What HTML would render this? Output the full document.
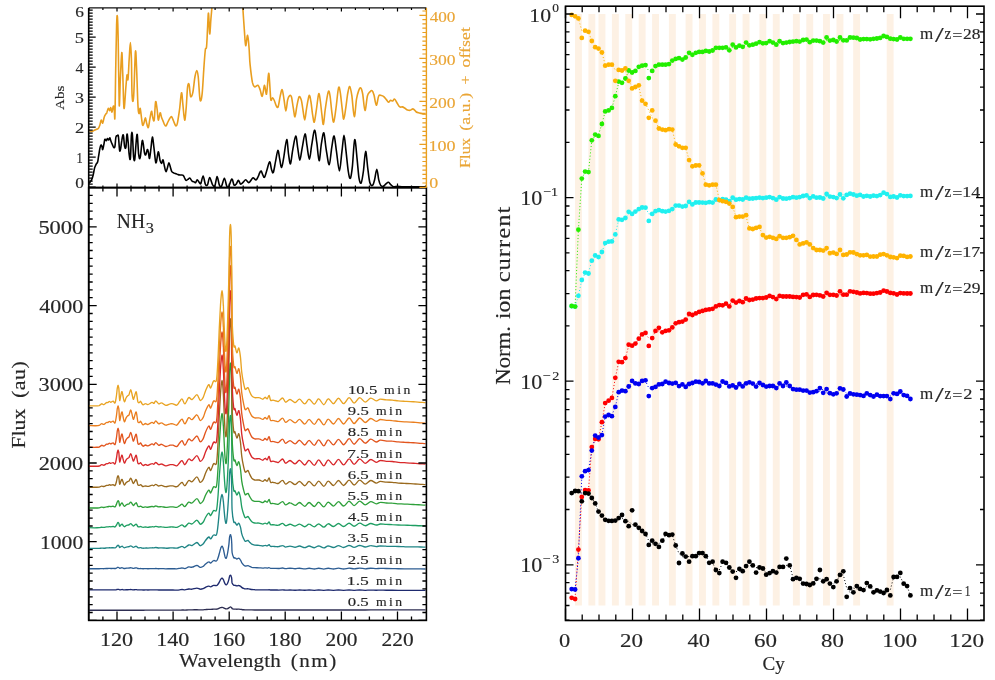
<!DOCTYPE html><html><head><meta charset="utf-8"><style>html,body{margin:0;padding:0;background:#fff;}svg{display:block;will-change:transform;}</style></head><body>
<svg width="995" height="680" viewBox="0 0 995 680">
<rect width="995" height="680" fill="#fff"/>
<defs>
<clipPath id="cT"><rect x="88.7" y="7.9" width="337.7" height="179.7"/></clipPath>
<clipPath id="cB"><rect x="88.7" y="187.6" width="337.7" height="432.8"/></clipPath>
</defs>
<rect x="575" y="14" width="6.9" height="591.5" fill="#FDF1E4"/>
<rect x="588.4" y="14" width="6.9" height="591.5" fill="#FDF1E4"/>
<rect x="598.5" y="14" width="6.9" height="591.5" fill="#FDF1E4"/>
<rect x="611.9" y="14" width="6.9" height="591.5" fill="#FDF1E4"/>
<rect x="625.3" y="14" width="6.9" height="591.5" fill="#FDF1E4"/>
<rect x="638.7" y="14" width="6.9" height="591.5" fill="#FDF1E4"/>
<rect x="652.1" y="14" width="6.9" height="591.5" fill="#FDF1E4"/>
<rect x="668.9" y="14" width="6.9" height="591.5" fill="#FDF1E4"/>
<rect x="685.6" y="14" width="6.9" height="591.5" fill="#FDF1E4"/>
<rect x="699" y="14" width="6.9" height="591.5" fill="#FDF1E4"/>
<rect x="712.4" y="14" width="6.9" height="591.5" fill="#FDF1E4"/>
<rect x="729.2" y="14" width="6.9" height="591.5" fill="#FDF1E4"/>
<rect x="742.6" y="14" width="6.9" height="591.5" fill="#FDF1E4"/>
<rect x="759.4" y="14" width="6.9" height="591.5" fill="#FDF1E4"/>
<rect x="772.8" y="14" width="6.9" height="591.5" fill="#FDF1E4"/>
<rect x="792.9" y="14" width="6.9" height="591.5" fill="#FDF1E4"/>
<rect x="806.3" y="14" width="6.9" height="591.5" fill="#FDF1E4"/>
<rect x="823" y="14" width="6.9" height="591.5" fill="#FDF1E4"/>
<rect x="836.5" y="14" width="6.9" height="591.5" fill="#FDF1E4"/>
<rect x="853.2" y="14" width="6.9" height="591.5" fill="#FDF1E4"/>
<rect x="886.7" y="14" width="6.9" height="591.5" fill="#FDF1E4"/>
<path d="M571.7,306.2 L575.1,306.2 L578.4,295.8 L581.8,280 L585.1,273.5 L588.5,272.6 L591.8,260.7 L595.2,257.1 L598.5,255.4 L601.9,252 L605.2,243.1 L608.6,241.7 L611.9,241.4 L615.3,234.4 L618.7,219.8 L622,219.4 L625.4,218 L628.7,213.9 L632.1,211.8 L635.4,211.6 L638.8,209.1 L642.1,207.7 L645.5,207.7 L648.8,213.9 L652.2,213.9 L655.5,211.2 L658.9,211.2 L662.3,211.2 L665.6,211.2 L669,210.8 L672.3,209.1 L675.7,205.6 L679,205.6 L682.4,206 L685.7,206 L689.1,204.4 L692.4,202.5 L695.8,202.5 L699.1,202.5 L702.5,202.6 L705.8,202.6 L709.2,202.6 L712.6,202.2 L715.9,200.1 L719.3,199.5 L722.6,199.7 L726,199.7 L729.3,199.7 L732.7,199.7 L736,199.1 L739.4,199.5 L742.7,199.1 L746.1,198.7 L749.4,198.5 L752.8,198.5 L756.1,198.1 L759.5,198.1 L762.9,197.7 L766.2,197.7 L769.6,197.7 L772.9,198.1 L776.3,198.1 L779.6,198.5 L783,198.5 L786.3,198.5 L789.7,198.1 L793,197.7 L796.4,197.1 L799.7,197.1 L803.1,196 L806.5,196 L809.8,196.4 L813.2,197.7 L816.5,197.5 L819.9,197.7 L823.2,197.5 L826.6,196.6 L829.9,196.6 L833.3,197.1 L836.6,197.1 L840,198.1 L843.3,194.9 L846.7,194.9 L850,194.5 L853.4,194.5 L856.8,194.9 L860.1,195.7 L863.5,195.8 L866.8,196.5 L870.2,195.8 L873.5,196.1 L876.9,195.7 L880.2,195.1 L883.6,194.1 L886.9,194.1 L890.3,196.5 L893.6,196.9 L897,196.5 L900.3,196.1 L903.7,196.1 L907.1,196.1 L910.4,195.9" fill="none" stroke="#20F0F0" stroke-width="1" stroke-dasharray="1 2.2"/>
<path d="M571.7,306 L575.1,306 L578.4,229.7 L581.8,178.6 L585.1,172.1 L588.5,171.6 L591.8,140.3 L595.2,135.9 L598.5,134.6 L601.9,124 L605.2,111.4 L608.6,110.4 L611.9,107.9 L615.3,96.2 L618.7,82.8 L622,81.6 L625.4,78.5 L628.7,72.5 L632.1,70.9 L635.4,70.9 L638.8,66.8 L642.1,65.7 L645.5,65.7 L648.8,70.9 L652.2,70.9 L655.5,66.1 L658.9,64.7 L662.3,64.7 L665.6,64.7 L669,64.1 L672.3,60.6 L675.7,58.9 L679,58.9 L682.4,58.1 L685.7,57.5 L689.1,54.8 L692.4,52.8 L695.8,52.8 L699.1,51.9 L702.5,51.9 L705.8,51.5 L709.2,50.9 L712.6,50.5 L715.9,47.8 L719.3,47.8 L722.6,47.8 L726,47.8 L729.3,47.4 L732.7,47.4 L736,45.7 L739.4,46.8 L742.7,45.7 L746.1,45.3 L749.4,44.7 L752.8,44.7 L756.1,43.7 L759.5,43.3 L762.9,43.1 L766.2,43.1 L769.6,42.6 L772.9,42.6 L776.3,42.6 L779.6,43.1 L783,42.6 L786.3,42.6 L789.7,42 L793,41.6 L796.4,41.6 L799.7,41.2 L803.1,40 L806.5,40 L809.8,40.6 L813.2,40.6 L816.5,40.6 L819.9,41.2 L823.2,41.2 L826.6,40.6 L829.9,40 L833.3,40.6 L836.6,40 L840,40.3 L843.3,40.3 L846.7,40.3 L850,37.7 L853.4,37.7 L856.8,38 L860.1,39.1 L863.5,39.1 L866.8,39.1 L870.2,39.1 L873.5,38.8 L876.9,38.5 L880.2,37.9 L883.6,36.9 L886.9,36.9 L890.3,38.7 L893.6,39.1 L897,39.1 L900.3,38.8 L903.7,38.8 L907.1,38.8 L910.4,38.8" fill="none" stroke="#22EE00" stroke-width="1" stroke-dasharray="1 2.2"/>
<path d="M571.7,14.9 L575.1,16.3 L578.4,18.4 L581.8,30.7 L585.1,31.8 L588.5,31.8 L591.8,41 L595.2,47.2 L598.5,48.6 L601.9,52.4 L605.2,64.7 L608.6,64.7 L611.9,64.7 L615.3,69.9 L618.7,70.5 L622,69.9 L625.4,70.5 L628.7,80.8 L632.1,87 L635.4,87 L638.8,87 L642.1,100.7 L645.5,103.8 L648.8,110.4 L652.2,117.8 L655.5,120.7 L658.9,128.5 L662.3,129.6 L665.6,129.6 L669,129.6 L672.3,129.6 L675.7,144.5 L679,146.3 L682.4,147.8 L685.7,147.8 L689.1,160.1 L692.4,165.5 L695.8,165.5 L699.1,165.5 L702.5,173.4 L705.8,184.7 L709.2,184.7 L712.6,184.7 L715.9,184.7 L719.3,200.1 L722.6,201.2 L726,201.8 L729.3,203.6 L732.7,206.9 L736,216.6 L739.4,216.6 L742.7,216.6 L746.1,216.6 L749.4,228.4 L752.8,228.4 L756.1,227.9 L759.5,227.9 L762.9,235.1 L766.2,236.8 L769.6,237.6 L772.9,237.8 L776.3,237.8 L779.6,237.8 L783,237.8 L786.3,237.8 L789.7,237.2 L793,237.2 L796.4,239.9 L799.7,243.4 L803.1,243.4 L806.5,243.4 L809.8,244.4 L813.2,248.1 L816.5,250 L819.9,250 L823.2,250 L826.6,250.6 L829.9,252.6 L833.3,253.1 L836.6,252.6 L840,253.8 L843.3,254.5 L846.7,254.5 L850,252.5 L853.4,252.5 L856.8,254.1 L860.1,255.3 L863.5,255.3 L866.8,255.3 L870.2,256.5 L873.5,256.5 L876.9,256.5 L880.2,254.7 L883.6,254.7 L886.9,255.3 L890.3,257 L893.6,257.3 L897,257.3 L900.3,255.9 L903.7,255.9 L907.1,256.5 L910.4,256.5" fill="none" stroke="#FFB300" stroke-width="1" stroke-dasharray="1 2.2"/>
<path d="M571.7,597.8 L575.1,597.8 L578.4,549.6 L581.8,497 L585.1,490.3 L588.5,490.1 L591.8,447.1 L595.2,439.3 L598.5,438.9 L601.9,422.2 L605.2,403.1 L608.6,400.7 L611.9,397.9 L615.3,377.8 L618.7,362.2 L622,361.8 L625.4,358.1 L628.7,345.7 L632.1,344.7 L635.4,343.6 L638.8,338.7 L642.1,334.4 L645.5,334.4 L648.8,338.1 L652.2,338.1 L655.5,330.9 L658.9,330.9 L662.3,330.9 L665.6,330.9 L669,330.3 L672.3,327.4 L675.7,323.3 L679,322.2 L682.4,321.6 L685.7,319.6 L689.1,315 L692.4,314 L695.8,313.4 L699.1,311.9 L702.5,310.9 L705.8,309.9 L709.2,309.4 L712.6,308.8 L715.9,306.4 L719.3,305.3 L722.6,305.1 L726,305.3 L729.3,303.7 L732.7,302.6 L736,301 L739.4,302.2 L742.7,301 L746.1,300 L749.4,299.6 L752.8,299.6 L756.1,298.5 L759.5,298.1 L762.9,298.1 L766.2,297.5 L769.6,297.1 L772.9,297.1 L776.3,297.1 L779.6,296.5 L783,296.5 L786.3,296.5 L789.7,296.5 L793,296.9 L796.4,297.1 L799.7,297.1 L803.1,294.8 L806.5,294.8 L809.8,295 L813.2,295 L816.5,295 L819.9,295.4 L823.2,295.4 L826.6,294.8 L829.9,294.8 L833.3,294.8 L836.6,294.8 L840,294.7 L843.3,294.7 L846.7,294.7 L850,291.8 L853.4,291.8 L856.8,292.5 L860.1,292.9 L863.5,293.1 L866.8,293.1 L870.2,293.7 L873.5,293.7 L876.9,293.1 L880.2,292.5 L883.6,291.5 L886.9,291.5 L890.3,292.9 L893.6,293.3 L897,293.3 L900.3,293.4 L903.7,293.4 L907.1,293.5 L910.4,293.5" fill="none" stroke="#FF0000" stroke-width="1" stroke-dasharray="1 2.2"/>
<path d="M571.7,589.1 L575.1,589.1 L578.4,558.2 L581.8,476.3 L585.1,471.2 L588.5,470.1 L591.8,450.6 L595.2,437.6 L598.5,435.6 L601.9,435.1 L605.2,416.6 L608.6,416.2 L611.9,415 L615.3,406.9 L618.7,392.2 L622,391.2 L625.4,390.6 L628.7,386.5 L632.1,383.4 L635.4,383.4 L638.8,383.4 L642.1,380.9 L645.5,380.9 L648.8,388.1 L652.2,388.1 L655.5,386.9 L658.9,384.4 L662.3,384 L665.6,383 L669,383 L672.3,383 L675.7,383.6 L679,384.4 L682.4,386.1 L685.7,384.4 L689.1,384 L692.4,383 L695.8,382 L699.1,382 L702.5,382 L705.8,383.3 L709.2,383.4 L712.6,383.4 L715.9,384.6 L719.3,384.6 L722.6,382.9 L726,382.9 L729.3,385.4 L732.7,386.4 L736,385.4 L739.4,386.4 L742.7,384 L746.1,383.4 L749.4,383.4 L752.8,383.6 L756.1,383.6 L759.5,385 L762.9,385 L766.2,386 L769.6,386 L772.9,386 L776.3,386 L779.6,386 L783,383.4 L786.3,386 L789.7,386 L793,389.1 L796.4,389.7 L799.7,389.7 L803.1,390.6 L806.5,390.6 L809.8,392.2 L813.2,392.2 L816.5,391.2 L819.9,391.2 L823.2,389.1 L826.6,392.8 L829.9,393.2 L833.3,393.3 L836.6,393.3 L840,389.5 L843.3,389.5 L846.7,393.5 L850,394.3 L853.4,394.3 L856.8,394.7 L860.1,395.1 L863.5,395.1 L866.8,395.1 L870.2,395.1 L873.5,395.1 L876.9,396.1 L880.2,396.1 L883.6,396.1 L886.9,396.1 L890.3,396.1 L893.6,393.9 L897,393.3 L900.3,393.9 L903.7,395.1 L907.1,395.9 L910.4,399" fill="none" stroke="#0000F0" stroke-width="1" stroke-dasharray="1 2.2"/>
<path d="M571.7,493.1 L575.1,491.2 L578.4,491.2 L581.8,493.1 L585.1,493.6 L588.5,493.6 L591.8,498 L595.2,503.4 L598.5,511.6 L601.9,515.6 L605.2,519.8 L608.6,520.8 L611.9,520.8 L615.3,520.6 L618.7,518.1 L622,518.1 L625.4,521.2 L628.7,521.2 L632.1,524.7 L635.4,524.7 L638.8,527.8 L642.1,531 L645.5,534 L648.8,540.7 L652.2,543.8 L655.5,543.8 L658.9,543.8 L662.3,540.7 L665.6,535.2 L669,534.6 L672.3,535.2 L675.7,545.5 L679,553.5 L682.4,556.6 L685.7,556.6 L689.1,556.6 L692.4,556.2 L695.8,556.2 L699.1,553.1 L702.5,553.1 L705.8,556.2 L709.2,561.7 L712.6,562.8 L715.9,570 L719.3,570 L722.6,562.8 L726,562.8 L729.3,567.5 L732.7,571.6 L736,571.6 L739.4,571.2 L742.7,568.9 L746.1,566.1 L749.4,565.4 L752.8,565.4 L756.1,567.5 L759.5,568.5 L762.9,568.5 L766.2,573.1 L769.6,573.1 L772.9,572.6 L776.3,571.2 L779.6,566.9 L783,566.9 L786.3,565.4 L789.7,565.4 L793,577.8 L796.4,578.8 L799.7,578.8 L803.1,583.6 L806.5,584 L809.8,584 L813.2,583.4 L816.5,578.8 L819.9,578.8 L823.2,579.2 L826.6,581.3 L829.9,583.6 L833.3,583.6 L836.6,581.3 L840,574.9 L843.3,574.9 L846.7,588.1 L850,592.3 L853.4,588.1 L856.8,588.9 L860.1,588.9 L863.5,588.9 L866.8,586.4 L870.2,586.4 L873.5,590.4 L876.9,591.6 L880.2,591.6 L883.6,591.6 L886.9,593 L890.3,590 L893.6,577 L897,576.9 L900.3,576.9 L903.7,583.7 L907.1,586.1 L910.4,595.4" fill="none" stroke="#000000" stroke-width="1" stroke-dasharray="1 2.2"/>
<g fill="#20F0F0"><circle cx="571.7" cy="306.2" r="2.4"/><circle cx="575.1" cy="306.6" r="2.4"/><circle cx="578.4" cy="295.8" r="2.4"/><circle cx="581.8" cy="280" r="2.4"/><circle cx="585.1" cy="272.6" r="2.4"/><circle cx="588.5" cy="273.5" r="2.4"/><circle cx="591.8" cy="260.7" r="2.4"/><circle cx="595.2" cy="255.4" r="2.4"/><circle cx="598.5" cy="257.1" r="2.4"/><circle cx="601.9" cy="252" r="2.4"/><circle cx="605.2" cy="243.1" r="2.4"/><circle cx="608.6" cy="241.7" r="2.4"/><circle cx="611.9" cy="241.4" r="2.4"/><circle cx="615.3" cy="234.4" r="2.4"/><circle cx="618.7" cy="219.4" r="2.4"/><circle cx="622" cy="219.8" r="2.4"/><circle cx="625.4" cy="218" r="2.4"/><circle cx="628.7" cy="211.8" r="2.4"/><circle cx="632.1" cy="213.9" r="2.4"/><circle cx="635.4" cy="211.6" r="2.4"/><circle cx="638.8" cy="209.1" r="2.4"/><circle cx="642.1" cy="207.5" r="2.4"/><circle cx="645.5" cy="207.7" r="2.4"/><circle cx="648.8" cy="220.9" r="2.4"/><circle cx="652.2" cy="213.9" r="2.4"/><circle cx="655.5" cy="211.2" r="2.4"/><circle cx="658.9" cy="210.1" r="2.4"/><circle cx="662.3" cy="211.2" r="2.4"/><circle cx="665.6" cy="211.6" r="2.4"/><circle cx="669" cy="210.8" r="2.4"/><circle cx="672.3" cy="209.1" r="2.4"/><circle cx="675.7" cy="205.6" r="2.4"/><circle cx="679" cy="205.6" r="2.4"/><circle cx="682.4" cy="206.6" r="2.4"/><circle cx="685.7" cy="206" r="2.4"/><circle cx="689.1" cy="201.9" r="2.4"/><circle cx="692.4" cy="204.4" r="2.4"/><circle cx="695.8" cy="202.5" r="2.4"/><circle cx="699.1" cy="202.5" r="2.4"/><circle cx="702.5" cy="202.6" r="2.4"/><circle cx="705.8" cy="202.8" r="2.4"/><circle cx="709.2" cy="202.2" r="2.4"/><circle cx="712.6" cy="202.6" r="2.4"/><circle cx="715.9" cy="199.5" r="2.4"/><circle cx="719.3" cy="200.1" r="2.4"/><circle cx="722.6" cy="199.1" r="2.4"/><circle cx="726" cy="199.7" r="2.4"/><circle cx="729.3" cy="201.2" r="2.4"/><circle cx="732.7" cy="197.7" r="2.4"/><circle cx="736" cy="199.7" r="2.4"/><circle cx="739.4" cy="199.1" r="2.4"/><circle cx="742.7" cy="199.5" r="2.4"/><circle cx="746.1" cy="197.7" r="2.4"/><circle cx="749.4" cy="198.7" r="2.4"/><circle cx="752.8" cy="198.5" r="2.4"/><circle cx="756.1" cy="198.1" r="2.4"/><circle cx="759.5" cy="197.7" r="2.4"/><circle cx="762.9" cy="198.1" r="2.4"/><circle cx="766.2" cy="197.7" r="2.4"/><circle cx="769.6" cy="197.1" r="2.4"/><circle cx="772.9" cy="198.1" r="2.4"/><circle cx="776.3" cy="199.7" r="2.4"/><circle cx="779.6" cy="197.1" r="2.4"/><circle cx="783" cy="198.5" r="2.4"/><circle cx="786.3" cy="198.7" r="2.4"/><circle cx="789.7" cy="198.1" r="2.4"/><circle cx="793" cy="197.1" r="2.4"/><circle cx="796.4" cy="197.7" r="2.4"/><circle cx="799.7" cy="197.1" r="2.4"/><circle cx="803.1" cy="196" r="2.4"/><circle cx="806.5" cy="195.4" r="2.4"/><circle cx="809.8" cy="198.1" r="2.4"/><circle cx="813.2" cy="196.4" r="2.4"/><circle cx="816.5" cy="197.7" r="2.4"/><circle cx="819.9" cy="197.5" r="2.4"/><circle cx="823.2" cy="198.5" r="2.4"/><circle cx="826.6" cy="194" r="2.4"/><circle cx="829.9" cy="196.6" r="2.4"/><circle cx="833.3" cy="197.1" r="2.4"/><circle cx="836.6" cy="198.1" r="2.4"/><circle cx="840" cy="194.5" r="2.4"/><circle cx="843.3" cy="198.3" r="2.4"/><circle cx="846.7" cy="194.9" r="2.4"/><circle cx="850" cy="193.7" r="2.4"/><circle cx="853.4" cy="194.5" r="2.4"/><circle cx="856.8" cy="195.7" r="2.4"/><circle cx="860.1" cy="194.9" r="2.4"/><circle cx="863.5" cy="196.5" r="2.4"/><circle cx="866.8" cy="195.8" r="2.4"/><circle cx="870.2" cy="196.5" r="2.4"/><circle cx="873.5" cy="195.7" r="2.4"/><circle cx="876.9" cy="196.1" r="2.4"/><circle cx="880.2" cy="195.1" r="2.4"/><circle cx="883.6" cy="192.7" r="2.4"/><circle cx="886.9" cy="194.1" r="2.4"/><circle cx="890.3" cy="196.9" r="2.4"/><circle cx="893.6" cy="196.5" r="2.4"/><circle cx="897" cy="197.5" r="2.4"/><circle cx="900.3" cy="195.3" r="2.4"/><circle cx="903.7" cy="196.1" r="2.4"/><circle cx="907.1" cy="196.1" r="2.4"/><circle cx="910.4" cy="195.9" r="2.4"/></g>
<g fill="#22EE00"><circle cx="571.7" cy="306" r="2.4"/><circle cx="575.1" cy="306.6" r="2.4"/><circle cx="578.4" cy="229.7" r="2.4"/><circle cx="581.8" cy="178.6" r="2.4"/><circle cx="585.1" cy="171.6" r="2.4"/><circle cx="588.5" cy="172.1" r="2.4"/><circle cx="591.8" cy="140.3" r="2.4"/><circle cx="595.2" cy="134.6" r="2.4"/><circle cx="598.5" cy="135.9" r="2.4"/><circle cx="601.9" cy="124" r="2.4"/><circle cx="605.2" cy="111.4" r="2.4"/><circle cx="608.6" cy="110.4" r="2.4"/><circle cx="611.9" cy="107.9" r="2.4"/><circle cx="615.3" cy="96.2" r="2.4"/><circle cx="618.7" cy="81.6" r="2.4"/><circle cx="622" cy="82.8" r="2.4"/><circle cx="625.4" cy="78.5" r="2.4"/><circle cx="628.7" cy="70.5" r="2.4"/><circle cx="632.1" cy="72.5" r="2.4"/><circle cx="635.4" cy="70.9" r="2.4"/><circle cx="638.8" cy="66.8" r="2.4"/><circle cx="642.1" cy="65.7" r="2.4"/><circle cx="645.5" cy="65.1" r="2.4"/><circle cx="648.8" cy="78.1" r="2.4"/><circle cx="652.2" cy="70.9" r="2.4"/><circle cx="655.5" cy="66.1" r="2.4"/><circle cx="658.9" cy="64.7" r="2.4"/><circle cx="662.3" cy="64.7" r="2.4"/><circle cx="665.6" cy="64.7" r="2.4"/><circle cx="669" cy="64.1" r="2.4"/><circle cx="672.3" cy="60.6" r="2.4"/><circle cx="675.7" cy="58.9" r="2.4"/><circle cx="679" cy="58.1" r="2.4"/><circle cx="682.4" cy="59.6" r="2.4"/><circle cx="685.7" cy="57.5" r="2.4"/><circle cx="689.1" cy="52.8" r="2.4"/><circle cx="692.4" cy="54.8" r="2.4"/><circle cx="695.8" cy="52.8" r="2.4"/><circle cx="699.1" cy="51.9" r="2.4"/><circle cx="702.5" cy="51.9" r="2.4"/><circle cx="705.8" cy="50.9" r="2.4"/><circle cx="709.2" cy="51.5" r="2.4"/><circle cx="712.6" cy="50.5" r="2.4"/><circle cx="715.9" cy="47.8" r="2.4"/><circle cx="719.3" cy="47.8" r="2.4"/><circle cx="722.6" cy="47.8" r="2.4"/><circle cx="726" cy="47.4" r="2.4"/><circle cx="729.3" cy="50.3" r="2.4"/><circle cx="732.7" cy="44.7" r="2.4"/><circle cx="736" cy="47.4" r="2.4"/><circle cx="739.4" cy="45.7" r="2.4"/><circle cx="742.7" cy="46.8" r="2.4"/><circle cx="746.1" cy="42.6" r="2.4"/><circle cx="749.4" cy="45.3" r="2.4"/><circle cx="752.8" cy="44.7" r="2.4"/><circle cx="756.1" cy="43.7" r="2.4"/><circle cx="759.5" cy="42.2" r="2.4"/><circle cx="762.9" cy="43.3" r="2.4"/><circle cx="766.2" cy="43.1" r="2.4"/><circle cx="769.6" cy="41.2" r="2.4"/><circle cx="772.9" cy="42.6" r="2.4"/><circle cx="776.3" cy="44.7" r="2.4"/><circle cx="779.6" cy="41.2" r="2.4"/><circle cx="783" cy="43.1" r="2.4"/><circle cx="786.3" cy="42.6" r="2.4"/><circle cx="789.7" cy="42" r="2.4"/><circle cx="793" cy="41.6" r="2.4"/><circle cx="796.4" cy="41.2" r="2.4"/><circle cx="799.7" cy="41.6" r="2.4"/><circle cx="803.1" cy="40" r="2.4"/><circle cx="806.5" cy="39.6" r="2.4"/><circle cx="809.8" cy="42.2" r="2.4"/><circle cx="813.2" cy="40.6" r="2.4"/><circle cx="816.5" cy="40.6" r="2.4"/><circle cx="819.9" cy="41.2" r="2.4"/><circle cx="823.2" cy="42.6" r="2.4"/><circle cx="826.6" cy="37.5" r="2.4"/><circle cx="829.9" cy="40.6" r="2.4"/><circle cx="833.3" cy="40" r="2.4"/><circle cx="836.6" cy="41.5" r="2.4"/><circle cx="840" cy="37.5" r="2.4"/><circle cx="843.3" cy="40.3" r="2.4"/><circle cx="846.7" cy="40.4" r="2.4"/><circle cx="850" cy="37.5" r="2.4"/><circle cx="853.4" cy="37.7" r="2.4"/><circle cx="856.8" cy="38" r="2.4"/><circle cx="860.1" cy="39.5" r="2.4"/><circle cx="863.5" cy="39.1" r="2.4"/><circle cx="866.8" cy="39.1" r="2.4"/><circle cx="870.2" cy="39.3" r="2.4"/><circle cx="873.5" cy="38.8" r="2.4"/><circle cx="876.9" cy="38.5" r="2.4"/><circle cx="880.2" cy="37.9" r="2.4"/><circle cx="883.6" cy="36" r="2.4"/><circle cx="886.9" cy="36.9" r="2.4"/><circle cx="890.3" cy="38.7" r="2.4"/><circle cx="893.6" cy="39.1" r="2.4"/><circle cx="897" cy="39.5" r="2.4"/><circle cx="900.3" cy="37.5" r="2.4"/><circle cx="903.7" cy="38.8" r="2.4"/><circle cx="907.1" cy="38.8" r="2.4"/><circle cx="910.4" cy="38.8" r="2.4"/></g>
<g fill="#FFB300"><circle cx="571.7" cy="14.9" r="2.4"/><circle cx="575.1" cy="16.3" r="2.4"/><circle cx="578.4" cy="18.4" r="2.4"/><circle cx="581.8" cy="37.9" r="2.4"/><circle cx="585.1" cy="30.7" r="2.4"/><circle cx="588.5" cy="31.8" r="2.4"/><circle cx="591.8" cy="41" r="2.4"/><circle cx="595.2" cy="47.2" r="2.4"/><circle cx="598.5" cy="48.6" r="2.4"/><circle cx="601.9" cy="52.4" r="2.4"/><circle cx="605.2" cy="65.7" r="2.4"/><circle cx="608.6" cy="64.7" r="2.4"/><circle cx="611.9" cy="64.7" r="2.4"/><circle cx="615.3" cy="80.8" r="2.4"/><circle cx="618.7" cy="69.9" r="2.4"/><circle cx="622" cy="70.5" r="2.4"/><circle cx="625.4" cy="68.4" r="2.4"/><circle cx="628.7" cy="80.8" r="2.4"/><circle cx="632.1" cy="88.4" r="2.4"/><circle cx="635.4" cy="87" r="2.4"/><circle cx="638.8" cy="85.3" r="2.4"/><circle cx="642.1" cy="100.7" r="2.4"/><circle cx="645.5" cy="103.8" r="2.4"/><circle cx="648.8" cy="117.8" r="2.4"/><circle cx="652.2" cy="110.4" r="2.4"/><circle cx="655.5" cy="120.7" r="2.4"/><circle cx="658.9" cy="128.5" r="2.4"/><circle cx="662.3" cy="129.6" r="2.4"/><circle cx="665.6" cy="130.2" r="2.4"/><circle cx="669" cy="129.2" r="2.4"/><circle cx="672.3" cy="129.6" r="2.4"/><circle cx="675.7" cy="144.5" r="2.4"/><circle cx="679" cy="146.3" r="2.4"/><circle cx="682.4" cy="147.8" r="2.4"/><circle cx="685.7" cy="147.8" r="2.4"/><circle cx="689.1" cy="160.1" r="2.4"/><circle cx="692.4" cy="166.3" r="2.4"/><circle cx="695.8" cy="165.5" r="2.4"/><circle cx="699.1" cy="165.3" r="2.4"/><circle cx="702.5" cy="173.4" r="2.4"/><circle cx="705.8" cy="184.7" r="2.4"/><circle cx="709.2" cy="185.3" r="2.4"/><circle cx="712.6" cy="184.7" r="2.4"/><circle cx="715.9" cy="184.7" r="2.4"/><circle cx="719.3" cy="200.1" r="2.4"/><circle cx="722.6" cy="201.2" r="2.4"/><circle cx="726" cy="201.8" r="2.4"/><circle cx="729.3" cy="203.6" r="2.4"/><circle cx="732.7" cy="206.9" r="2.4"/><circle cx="736" cy="217.2" r="2.4"/><circle cx="739.4" cy="216.6" r="2.4"/><circle cx="742.7" cy="216.6" r="2.4"/><circle cx="746.1" cy="215.2" r="2.4"/><circle cx="749.4" cy="228.4" r="2.4"/><circle cx="752.8" cy="229" r="2.4"/><circle cx="756.1" cy="227.9" r="2.4"/><circle cx="759.5" cy="226.9" r="2.4"/><circle cx="762.9" cy="235.1" r="2.4"/><circle cx="766.2" cy="237.6" r="2.4"/><circle cx="769.6" cy="236.8" r="2.4"/><circle cx="772.9" cy="237.8" r="2.4"/><circle cx="776.3" cy="238.9" r="2.4"/><circle cx="779.6" cy="236.2" r="2.4"/><circle cx="783" cy="237.8" r="2.4"/><circle cx="786.3" cy="237.8" r="2.4"/><circle cx="789.7" cy="237.2" r="2.4"/><circle cx="793" cy="235.8" r="2.4"/><circle cx="796.4" cy="239.9" r="2.4"/><circle cx="799.7" cy="244.4" r="2.4"/><circle cx="803.1" cy="243.4" r="2.4"/><circle cx="806.5" cy="242.4" r="2.4"/><circle cx="809.8" cy="244.4" r="2.4"/><circle cx="813.2" cy="248.1" r="2.4"/><circle cx="816.5" cy="250" r="2.4"/><circle cx="819.9" cy="250" r="2.4"/><circle cx="823.2" cy="250.6" r="2.4"/><circle cx="826.6" cy="248.1" r="2.4"/><circle cx="829.9" cy="253.1" r="2.4"/><circle cx="833.3" cy="252.6" r="2.4"/><circle cx="836.6" cy="253.8" r="2.4"/><circle cx="840" cy="250" r="2.4"/><circle cx="843.3" cy="254.9" r="2.4"/><circle cx="846.7" cy="254.5" r="2.4"/><circle cx="850" cy="252.3" r="2.4"/><circle cx="853.4" cy="252.5" r="2.4"/><circle cx="856.8" cy="254.1" r="2.4"/><circle cx="860.1" cy="255.3" r="2.4"/><circle cx="863.5" cy="255.3" r="2.4"/><circle cx="866.8" cy="254.9" r="2.4"/><circle cx="870.2" cy="256.6" r="2.4"/><circle cx="873.5" cy="256.5" r="2.4"/><circle cx="876.9" cy="256.5" r="2.4"/><circle cx="880.2" cy="254.7" r="2.4"/><circle cx="883.6" cy="254.1" r="2.4"/><circle cx="886.9" cy="255.3" r="2.4"/><circle cx="890.3" cy="257" r="2.4"/><circle cx="893.6" cy="257.3" r="2.4"/><circle cx="897" cy="258.1" r="2.4"/><circle cx="900.3" cy="255.7" r="2.4"/><circle cx="903.7" cy="255.9" r="2.4"/><circle cx="907.1" cy="256.9" r="2.4"/><circle cx="910.4" cy="256.5" r="2.4"/></g>
<g fill="#FF0000"><circle cx="571.7" cy="597.8" r="2.4"/><circle cx="575.1" cy="599" r="2.4"/><circle cx="578.4" cy="549.6" r="2.4"/><circle cx="581.8" cy="497" r="2.4"/><circle cx="585.1" cy="490.1" r="2.4"/><circle cx="588.5" cy="490.3" r="2.4"/><circle cx="591.8" cy="447.1" r="2.4"/><circle cx="595.2" cy="438.9" r="2.4"/><circle cx="598.5" cy="439.3" r="2.4"/><circle cx="601.9" cy="422.2" r="2.4"/><circle cx="605.2" cy="403.1" r="2.4"/><circle cx="608.6" cy="400.7" r="2.4"/><circle cx="611.9" cy="397.9" r="2.4"/><circle cx="615.3" cy="377.8" r="2.4"/><circle cx="618.7" cy="361.8" r="2.4"/><circle cx="622" cy="362.2" r="2.4"/><circle cx="625.4" cy="358.1" r="2.4"/><circle cx="628.7" cy="344.7" r="2.4"/><circle cx="632.1" cy="345.7" r="2.4"/><circle cx="635.4" cy="343.6" r="2.4"/><circle cx="638.8" cy="338.7" r="2.4"/><circle cx="642.1" cy="334.4" r="2.4"/><circle cx="645.5" cy="332.9" r="2.4"/><circle cx="648.8" cy="345.9" r="2.4"/><circle cx="652.2" cy="338.1" r="2.4"/><circle cx="655.5" cy="330.9" r="2.4"/><circle cx="658.9" cy="327.8" r="2.4"/><circle cx="662.3" cy="332.3" r="2.4"/><circle cx="665.6" cy="330.9" r="2.4"/><circle cx="669" cy="330.3" r="2.4"/><circle cx="672.3" cy="327.4" r="2.4"/><circle cx="675.7" cy="323.3" r="2.4"/><circle cx="679" cy="322.2" r="2.4"/><circle cx="682.4" cy="321.6" r="2.4"/><circle cx="685.7" cy="319.6" r="2.4"/><circle cx="689.1" cy="314" r="2.4"/><circle cx="692.4" cy="315" r="2.4"/><circle cx="695.8" cy="313.4" r="2.4"/><circle cx="699.1" cy="311.9" r="2.4"/><circle cx="702.5" cy="310.9" r="2.4"/><circle cx="705.8" cy="309.9" r="2.4"/><circle cx="709.2" cy="309.4" r="2.4"/><circle cx="712.6" cy="308.8" r="2.4"/><circle cx="715.9" cy="306.4" r="2.4"/><circle cx="719.3" cy="305.1" r="2.4"/><circle cx="722.6" cy="305.3" r="2.4"/><circle cx="726" cy="303.7" r="2.4"/><circle cx="729.3" cy="306.4" r="2.4"/><circle cx="732.7" cy="300.6" r="2.4"/><circle cx="736" cy="302.6" r="2.4"/><circle cx="739.4" cy="301" r="2.4"/><circle cx="742.7" cy="302.2" r="2.4"/><circle cx="746.1" cy="298.5" r="2.4"/><circle cx="749.4" cy="300" r="2.4"/><circle cx="752.8" cy="299.6" r="2.4"/><circle cx="756.1" cy="298.5" r="2.4"/><circle cx="759.5" cy="298.1" r="2.4"/><circle cx="762.9" cy="298.1" r="2.4"/><circle cx="766.2" cy="297.5" r="2.4"/><circle cx="769.6" cy="295.9" r="2.4"/><circle cx="772.9" cy="297.1" r="2.4"/><circle cx="776.3" cy="299.1" r="2.4"/><circle cx="779.6" cy="295.9" r="2.4"/><circle cx="783" cy="296.5" r="2.4"/><circle cx="786.3" cy="296.5" r="2.4"/><circle cx="789.7" cy="296.5" r="2.4"/><circle cx="793" cy="296.9" r="2.4"/><circle cx="796.4" cy="297.1" r="2.4"/><circle cx="799.7" cy="297.5" r="2.4"/><circle cx="803.1" cy="294.8" r="2.4"/><circle cx="806.5" cy="294.4" r="2.4"/><circle cx="809.8" cy="296.9" r="2.4"/><circle cx="813.2" cy="295" r="2.4"/><circle cx="816.5" cy="294.8" r="2.4"/><circle cx="819.9" cy="295.4" r="2.4"/><circle cx="823.2" cy="296.5" r="2.4"/><circle cx="826.6" cy="292.8" r="2.4"/><circle cx="829.9" cy="294.8" r="2.4"/><circle cx="833.3" cy="294.8" r="2.4"/><circle cx="836.6" cy="295.5" r="2.4"/><circle cx="840" cy="291.3" r="2.4"/><circle cx="843.3" cy="294.7" r="2.4"/><circle cx="846.7" cy="294.7" r="2.4"/><circle cx="850" cy="291.3" r="2.4"/><circle cx="853.4" cy="291.8" r="2.4"/><circle cx="856.8" cy="292.5" r="2.4"/><circle cx="860.1" cy="293.4" r="2.4"/><circle cx="863.5" cy="292.9" r="2.4"/><circle cx="866.8" cy="293.1" r="2.4"/><circle cx="870.2" cy="293.7" r="2.4"/><circle cx="873.5" cy="293.7" r="2.4"/><circle cx="876.9" cy="293.1" r="2.4"/><circle cx="880.2" cy="292.5" r="2.4"/><circle cx="883.6" cy="290.7" r="2.4"/><circle cx="886.9" cy="291.5" r="2.4"/><circle cx="890.3" cy="292.9" r="2.4"/><circle cx="893.6" cy="293.3" r="2.4"/><circle cx="897" cy="294.5" r="2.4"/><circle cx="900.3" cy="293.1" r="2.4"/><circle cx="903.7" cy="293.4" r="2.4"/><circle cx="907.1" cy="293.5" r="2.4"/><circle cx="910.4" cy="293.5" r="2.4"/></g>
<g fill="#0000F0"><circle cx="571.7" cy="589.1" r="2.4"/><circle cx="575.1" cy="589.5" r="2.4"/><circle cx="578.4" cy="558.2" r="2.4"/><circle cx="581.8" cy="476.3" r="2.4"/><circle cx="585.1" cy="471.2" r="2.4"/><circle cx="588.5" cy="470.1" r="2.4"/><circle cx="591.8" cy="450.6" r="2.4"/><circle cx="595.2" cy="435.6" r="2.4"/><circle cx="598.5" cy="437.6" r="2.4"/><circle cx="601.9" cy="435.1" r="2.4"/><circle cx="605.2" cy="416.6" r="2.4"/><circle cx="608.6" cy="415" r="2.4"/><circle cx="611.9" cy="416.2" r="2.4"/><circle cx="615.3" cy="406.9" r="2.4"/><circle cx="618.7" cy="392.2" r="2.4"/><circle cx="622" cy="390.6" r="2.4"/><circle cx="625.4" cy="391.2" r="2.4"/><circle cx="628.7" cy="386.5" r="2.4"/><circle cx="632.1" cy="380.9" r="2.4"/><circle cx="635.4" cy="383.4" r="2.4"/><circle cx="638.8" cy="384" r="2.4"/><circle cx="642.1" cy="380.9" r="2.4"/><circle cx="645.5" cy="380.3" r="2.4"/><circle cx="648.8" cy="396.1" r="2.4"/><circle cx="652.2" cy="388.1" r="2.4"/><circle cx="655.5" cy="386.9" r="2.4"/><circle cx="658.9" cy="384.4" r="2.4"/><circle cx="662.3" cy="384" r="2.4"/><circle cx="665.6" cy="381.7" r="2.4"/><circle cx="669" cy="383" r="2.4"/><circle cx="672.3" cy="383.6" r="2.4"/><circle cx="675.7" cy="382.8" r="2.4"/><circle cx="679" cy="386.1" r="2.4"/><circle cx="682.4" cy="384.4" r="2.4"/><circle cx="685.7" cy="386.9" r="2.4"/><circle cx="689.1" cy="384" r="2.4"/><circle cx="692.4" cy="383" r="2.4"/><circle cx="695.8" cy="381.7" r="2.4"/><circle cx="699.1" cy="382" r="2.4"/><circle cx="702.5" cy="383.3" r="2.4"/><circle cx="705.8" cy="380.9" r="2.4"/><circle cx="709.2" cy="383.4" r="2.4"/><circle cx="712.6" cy="383.4" r="2.4"/><circle cx="715.9" cy="384.6" r="2.4"/><circle cx="719.3" cy="386" r="2.4"/><circle cx="722.6" cy="381.5" r="2.4"/><circle cx="726" cy="382.9" r="2.4"/><circle cx="729.3" cy="386.4" r="2.4"/><circle cx="732.7" cy="385.4" r="2.4"/><circle cx="736" cy="387.5" r="2.4"/><circle cx="739.4" cy="384" r="2.4"/><circle cx="742.7" cy="386.4" r="2.4"/><circle cx="746.1" cy="383.4" r="2.4"/><circle cx="749.4" cy="382.3" r="2.4"/><circle cx="752.8" cy="383.6" r="2.4"/><circle cx="756.1" cy="386.6" r="2.4"/><circle cx="759.5" cy="382.9" r="2.4"/><circle cx="762.9" cy="385" r="2.4"/><circle cx="766.2" cy="386.6" r="2.4"/><circle cx="769.6" cy="386" r="2.4"/><circle cx="772.9" cy="386" r="2.4"/><circle cx="776.3" cy="388.1" r="2.4"/><circle cx="779.6" cy="383.4" r="2.4"/><circle cx="783" cy="386" r="2.4"/><circle cx="786.3" cy="382.5" r="2.4"/><circle cx="789.7" cy="386" r="2.4"/><circle cx="793" cy="389.1" r="2.4"/><circle cx="796.4" cy="389.7" r="2.4"/><circle cx="799.7" cy="389.7" r="2.4"/><circle cx="803.1" cy="390.6" r="2.4"/><circle cx="806.5" cy="390.6" r="2.4"/><circle cx="809.8" cy="392.6" r="2.4"/><circle cx="813.2" cy="392.2" r="2.4"/><circle cx="816.5" cy="391.2" r="2.4"/><circle cx="819.9" cy="388.1" r="2.4"/><circle cx="823.2" cy="392.8" r="2.4"/><circle cx="826.6" cy="389.1" r="2.4"/><circle cx="829.9" cy="393.2" r="2.4"/><circle cx="833.3" cy="394.3" r="2.4"/><circle cx="836.6" cy="393.3" r="2.4"/><circle cx="840" cy="388.3" r="2.4"/><circle cx="843.3" cy="389.5" r="2.4"/><circle cx="846.7" cy="396.5" r="2.4"/><circle cx="850" cy="393.5" r="2.4"/><circle cx="853.4" cy="394.3" r="2.4"/><circle cx="856.8" cy="394.7" r="2.4"/><circle cx="860.1" cy="395.1" r="2.4"/><circle cx="863.5" cy="395.9" r="2.4"/><circle cx="866.8" cy="393.3" r="2.4"/><circle cx="870.2" cy="395.1" r="2.4"/><circle cx="873.5" cy="396.5" r="2.4"/><circle cx="876.9" cy="394.7" r="2.4"/><circle cx="880.2" cy="396.1" r="2.4"/><circle cx="883.6" cy="396.1" r="2.4"/><circle cx="886.9" cy="396.1" r="2.4"/><circle cx="890.3" cy="399.1" r="2.4"/><circle cx="893.6" cy="393.3" r="2.4"/><circle cx="897" cy="393.9" r="2.4"/><circle cx="900.3" cy="391.5" r="2.4"/><circle cx="903.7" cy="395.1" r="2.4"/><circle cx="907.1" cy="395.9" r="2.4"/><circle cx="910.4" cy="399" r="2.4"/></g>
<g fill="#000000"><circle cx="571.7" cy="493.1" r="2.4"/><circle cx="575.1" cy="491" r="2.4"/><circle cx="578.4" cy="491.2" r="2.4"/><circle cx="581.8" cy="501.3" r="2.4"/><circle cx="585.1" cy="493.1" r="2.4"/><circle cx="588.5" cy="493.6" r="2.4"/><circle cx="591.8" cy="498" r="2.4"/><circle cx="595.2" cy="503.4" r="2.4"/><circle cx="598.5" cy="511.6" r="2.4"/><circle cx="601.9" cy="515.6" r="2.4"/><circle cx="605.2" cy="519.8" r="2.4"/><circle cx="608.6" cy="520.8" r="2.4"/><circle cx="611.9" cy="520.9" r="2.4"/><circle cx="615.3" cy="520.6" r="2.4"/><circle cx="618.7" cy="518.1" r="2.4"/><circle cx="622" cy="515" r="2.4"/><circle cx="625.4" cy="521.2" r="2.4"/><circle cx="628.7" cy="526.2" r="2.4"/><circle cx="632.1" cy="510.3" r="2.4"/><circle cx="635.4" cy="524.7" r="2.4"/><circle cx="638.8" cy="527.8" r="2.4"/><circle cx="642.1" cy="531" r="2.4"/><circle cx="645.5" cy="534" r="2.4"/><circle cx="648.8" cy="544.9" r="2.4"/><circle cx="652.2" cy="540.7" r="2.4"/><circle cx="655.5" cy="543.8" r="2.4"/><circle cx="658.9" cy="546.9" r="2.4"/><circle cx="662.3" cy="540.7" r="2.4"/><circle cx="665.6" cy="533.9" r="2.4"/><circle cx="669" cy="535.2" r="2.4"/><circle cx="672.3" cy="534.6" r="2.4"/><circle cx="675.7" cy="545.5" r="2.4"/><circle cx="679" cy="563" r="2.4"/><circle cx="682.4" cy="553.5" r="2.4"/><circle cx="685.7" cy="556.6" r="2.4"/><circle cx="689.1" cy="561.7" r="2.4"/><circle cx="692.4" cy="556.2" r="2.4"/><circle cx="695.8" cy="556.2" r="2.4"/><circle cx="699.1" cy="553.1" r="2.4"/><circle cx="702.5" cy="553.1" r="2.4"/><circle cx="705.8" cy="556.2" r="2.4"/><circle cx="709.2" cy="562.8" r="2.4"/><circle cx="712.6" cy="561.7" r="2.4"/><circle cx="715.9" cy="570" r="2.4"/><circle cx="719.3" cy="573.1" r="2.4"/><circle cx="722.6" cy="561.7" r="2.4"/><circle cx="726" cy="562.8" r="2.4"/><circle cx="729.3" cy="567.5" r="2.4"/><circle cx="732.7" cy="571.6" r="2.4"/><circle cx="736" cy="577.8" r="2.4"/><circle cx="739.4" cy="568.9" r="2.4"/><circle cx="742.7" cy="571.2" r="2.4"/><circle cx="746.1" cy="566.1" r="2.4"/><circle cx="749.4" cy="561.7" r="2.4"/><circle cx="752.8" cy="565.4" r="2.4"/><circle cx="756.1" cy="572.6" r="2.4"/><circle cx="759.5" cy="567.5" r="2.4"/><circle cx="762.9" cy="568.5" r="2.4"/><circle cx="766.2" cy="574.7" r="2.4"/><circle cx="769.6" cy="573.1" r="2.4"/><circle cx="772.9" cy="571.2" r="2.4"/><circle cx="776.3" cy="572.6" r="2.4"/><circle cx="779.6" cy="566.9" r="2.4"/><circle cx="783" cy="566.9" r="2.4"/><circle cx="786.3" cy="558.6" r="2.4"/><circle cx="789.7" cy="565.4" r="2.4"/><circle cx="793" cy="579.2" r="2.4"/><circle cx="796.4" cy="577.8" r="2.4"/><circle cx="799.7" cy="578.8" r="2.4"/><circle cx="803.1" cy="583.6" r="2.4"/><circle cx="806.5" cy="584" r="2.4"/><circle cx="809.8" cy="585" r="2.4"/><circle cx="813.2" cy="583.4" r="2.4"/><circle cx="816.5" cy="578.8" r="2.4"/><circle cx="819.9" cy="570" r="2.4"/><circle cx="823.2" cy="581.3" r="2.4"/><circle cx="826.6" cy="579.2" r="2.4"/><circle cx="829.9" cy="583.6" r="2.4"/><circle cx="833.3" cy="587.1" r="2.4"/><circle cx="836.6" cy="581.3" r="2.4"/><circle cx="840" cy="574.9" r="2.4"/><circle cx="843.3" cy="571.3" r="2.4"/><circle cx="846.7" cy="596.8" r="2.4"/><circle cx="850" cy="588.1" r="2.4"/><circle cx="853.4" cy="592.3" r="2.4"/><circle cx="856.8" cy="586.1" r="2.4"/><circle cx="860.1" cy="588.9" r="2.4"/><circle cx="863.5" cy="590.1" r="2.4"/><circle cx="866.8" cy="583.1" r="2.4"/><circle cx="870.2" cy="586.4" r="2.4"/><circle cx="873.5" cy="592.3" r="2.4"/><circle cx="876.9" cy="590.4" r="2.4"/><circle cx="880.2" cy="591.6" r="2.4"/><circle cx="883.6" cy="593" r="2.4"/><circle cx="886.9" cy="590" r="2.4"/><circle cx="890.3" cy="595.4" r="2.4"/><circle cx="893.6" cy="577" r="2.4"/><circle cx="897" cy="576.9" r="2.4"/><circle cx="900.3" cy="572.9" r="2.4"/><circle cx="903.7" cy="583.7" r="2.4"/><circle cx="907.1" cy="586.1" r="2.4"/><circle cx="910.4" cy="595.4" r="2.4"/></g>
<rect x="565.5" y="6.2" width="418.5" height="614.3" stroke="#000" stroke-width="1.6" fill="none"/>
<path d="M565.5,620.5v-12M565.5,6.2v12M582.2,620.5v-6M582.2,6.2v6M599,620.5v-6M599,6.2v6M615.8,620.5v-6M615.8,6.2v6M632.5,620.5v-12M632.5,6.2v12M649.2,620.5v-6M649.2,6.2v6M666,620.5v-6M666,6.2v6M682.8,620.5v-6M682.8,6.2v6M699.5,620.5v-12M699.5,6.2v12M716.2,620.5v-6M716.2,6.2v6M733,620.5v-6M733,6.2v6M749.8,620.5v-6M749.8,6.2v6M766.5,620.5v-12M766.5,6.2v12M783.2,620.5v-6M783.2,6.2v6M800,620.5v-6M800,6.2v6M816.8,620.5v-6M816.8,6.2v6M833.5,620.5v-12M833.5,6.2v12M850.2,620.5v-6M850.2,6.2v6M867,620.5v-6M867,6.2v6M883.8,620.5v-6M883.8,6.2v6M900.5,620.5v-12M900.5,6.2v12M917.2,620.5v-6M917.2,6.2v6M934,620.5v-6M934,6.2v6M950.8,620.5v-6M950.8,6.2v6M967.5,620.5v-12M967.5,6.2v12M565.5,620.1h4M984,620.1h-4M565.5,605.5h4M984,605.5h-4M565.5,593.2h4M984,593.2h-4M565.5,582.6h4M984,582.6h-4M565.5,573.2h4M984,573.2h-4M565.5,564.8h8M984,564.8h-8M565.5,509.5h4M984,509.5h-4M565.5,477.2h4M984,477.2h-4M565.5,454.3h4M984,454.3h-4M565.5,436.5h4M984,436.5h-4M565.5,421.9h4M984,421.9h-4M565.5,409.6h4M984,409.6h-4M565.5,399h4M984,399h-4M565.5,389.6h4M984,389.6h-4M565.5,381.2h8M984,381.2h-8M565.5,325.9h4M984,325.9h-4M565.5,293.6h4M984,293.6h-4M565.5,270.7h4M984,270.7h-4M565.5,252.9h4M984,252.9h-4M565.5,238.3h4M984,238.3h-4M565.5,226h4M984,226h-4M565.5,215.4h4M984,215.4h-4M565.5,206h4M984,206h-4M565.5,197.6h8M984,197.6h-8M565.5,142.3h4M984,142.3h-4M565.5,110h4M984,110h-4M565.5,87.1h4M984,87.1h-4M565.5,69.3h4M984,69.3h-4M565.5,54.7h4M984,54.7h-4M565.5,42.4h4M984,42.4h-4M565.5,31.8h4M984,31.8h-4M565.5,22.4h4M984,22.4h-4M565.5,14h8M984,14h-8" stroke="#000" stroke-width="1.3" fill="none"/>
<text x="558.90" y="647.41" font-size="19.71" font-family='"Liberation Serif", serif' fill="#262626" stroke="#262626" stroke-width="0.15" textLength="11.21" lengthAdjust="spacingAndGlyphs">0</text>
<text x="619.94" y="647.41" font-size="19.71" font-family='"Liberation Serif", serif' fill="#262626" stroke="#262626" stroke-width="0.15" textLength="22.99" lengthAdjust="spacingAndGlyphs">20</text>
<text x="687.51" y="647.41" font-size="19.71" font-family='"Liberation Serif", serif' fill="#262626" stroke="#262626" stroke-width="0.15" textLength="22.39" lengthAdjust="spacingAndGlyphs">40</text>
<text x="753.96" y="647.41" font-size="19.71" font-family='"Liberation Serif", serif' fill="#262626" stroke="#262626" stroke-width="0.15" textLength="22.96" lengthAdjust="spacingAndGlyphs">60</text>
<text x="821.08" y="647.41" font-size="19.71" font-family='"Liberation Serif", serif' fill="#262626" stroke="#262626" stroke-width="0.15" textLength="22.84" lengthAdjust="spacingAndGlyphs">80</text>
<text x="882.37" y="647.41" font-size="19.71" font-family='"Liberation Serif", serif' fill="#262626" stroke="#262626" stroke-width="0.15" textLength="34.72" lengthAdjust="spacingAndGlyphs">100</text>
<text x="949.37" y="647.41" font-size="19.71" font-family='"Liberation Serif", serif' fill="#262626" stroke="#262626" stroke-width="0.15" textLength="34.72" lengthAdjust="spacingAndGlyphs">120</text>
<text x="762.41" y="670.41" font-size="19.65" font-family='"Liberation Serif", serif' fill="#262626" stroke="#262626" stroke-width="0.15" textLength="22.36" lengthAdjust="spacingAndGlyphs">Cy</text>
<text x="529.39" y="21.51" font-size="19.71" font-family='"Liberation Serif", serif' fill="#262626" stroke="#262626" stroke-width="0.15" textLength="21.74" lengthAdjust="spacingAndGlyphs">10</text>
<text x="552.19" y="12.29" font-size="11.71" font-family='"Liberation Serif", serif' fill="#262626" stroke="#262626" stroke-width="0.15" textLength="6.72" lengthAdjust="spacingAndGlyphs">0</text>
<text x="520.16" y="205.10" font-size="20.15" font-family='"Liberation Serif", serif' fill="#262626" stroke="#262626" stroke-width="0.15" textLength="22.08" lengthAdjust="spacingAndGlyphs">10</text>
<text transform="scale(1.1391,1)" x="476.76" y="196.10" font-size="12.42" font-family='"Liberation Serif", serif' fill="#262626" stroke="#262626" stroke-width="0.15" textLength="13.22" lengthAdjust="spacing">−1</text>
<text x="520.16" y="388.70" font-size="20.15" font-family='"Liberation Serif", serif' fill="#262626" stroke="#262626" stroke-width="0.15" textLength="22.08" lengthAdjust="spacingAndGlyphs">10</text>
<text transform="scale(1.1500,1)" x="472.25" y="379.70" font-size="12.38" font-family='"Liberation Serif", serif' fill="#262626" stroke="#262626" stroke-width="0.15" textLength="14.17" lengthAdjust="spacing">−2</text>
<text x="520.16" y="572.30" font-size="20.15" font-family='"Liberation Serif", serif' fill="#262626" stroke="#262626" stroke-width="0.15" textLength="22.08" lengthAdjust="spacingAndGlyphs">10</text>
<text transform="scale(1.1500,1)" x="472.26" y="563.18" font-size="12.20" font-family='"Liberation Serif", serif' fill="#262626" stroke="#262626" stroke-width="0.15" textLength="13.95" lengthAdjust="spacing">−3</text>
<text transform="translate(510.00,384.00) rotate(-90) scale(1.0526,1)" x="-0.62" y="0.00" font-size="21.53" font-family='"Liberation Serif", serif' fill="#262626" stroke="#262626" stroke-width="0.15" textLength="55.62" lengthAdjust="spacing">Norm.</text>
<text transform="translate(510.00,318.50) rotate(-90) scale(1.0995,1)" x="-0.45" y="0.00" font-size="21.53" font-family='"Liberation Serif", serif' fill="#262626" stroke="#262626" stroke-width="0.15" textLength="27.52" lengthAdjust="spacing">ion</text>
<text transform="translate(510.00,281.40) rotate(-90) scale(1.1500,1)" x="-0.82" y="0.00" font-size="21.53" font-family='"Liberation Serif", serif' fill="#262626" stroke="#262626" stroke-width="0.15" textLength="65.82" lengthAdjust="spacing">current</text>
<text x="920.14" y="39.00" font-size="15.70" font-family='"Liberation Serif", serif' fill="#262626" stroke="#262626" stroke-width="0.15" textLength="13.22" lengthAdjust="spacingAndGlyphs">m</text>
<text x="934.90" y="41.89" font-size="21.97" font-family='"Liberation Serif", serif' fill="#262626" stroke="#262626" stroke-width="0.15" textLength="8.70" lengthAdjust="spacingAndGlyphs">/</text>
<text x="944.59" y="39.00" font-size="16.12" font-family='"Liberation Serif", serif' fill="#262626" stroke="#262626" stroke-width="0.15" textLength="6.73" lengthAdjust="spacingAndGlyphs">z</text>
<text x="952.30" y="39.76" font-size="14.80" font-family='"Liberation Serif", serif' fill="#262626" stroke="#262626" stroke-width="0.15" textLength="10.18" lengthAdjust="spacingAndGlyphs">=</text>
<text x="963.13" y="39.00" font-size="14.35" font-family='"Liberation Serif", serif' fill="#262626" stroke="#262626" stroke-width="0.15" textLength="17.43" lengthAdjust="spacingAndGlyphs">28</text>
<text x="920.14" y="196.80" font-size="15.70" font-family='"Liberation Serif", serif' fill="#262626" stroke="#262626" stroke-width="0.15" textLength="13.22" lengthAdjust="spacingAndGlyphs">m</text>
<text x="934.90" y="199.69" font-size="21.97" font-family='"Liberation Serif", serif' fill="#262626" stroke="#262626" stroke-width="0.15" textLength="8.70" lengthAdjust="spacingAndGlyphs">/</text>
<text x="944.59" y="196.80" font-size="16.12" font-family='"Liberation Serif", serif' fill="#262626" stroke="#262626" stroke-width="0.15" textLength="6.73" lengthAdjust="spacingAndGlyphs">z</text>
<text x="952.30" y="197.56" font-size="14.80" font-family='"Liberation Serif", serif' fill="#262626" stroke="#262626" stroke-width="0.15" textLength="10.18" lengthAdjust="spacingAndGlyphs">=</text>
<text x="962.33" y="196.80" font-size="14.39" font-family='"Liberation Serif", serif' fill="#262626" stroke="#262626" stroke-width="0.15" textLength="17.85" lengthAdjust="spacingAndGlyphs">14</text>
<text x="920.14" y="256.80" font-size="15.70" font-family='"Liberation Serif", serif' fill="#262626" stroke="#262626" stroke-width="0.15" textLength="13.22" lengthAdjust="spacingAndGlyphs">m</text>
<text x="934.90" y="259.69" font-size="21.97" font-family='"Liberation Serif", serif' fill="#262626" stroke="#262626" stroke-width="0.15" textLength="8.70" lengthAdjust="spacingAndGlyphs">/</text>
<text x="944.59" y="256.80" font-size="16.12" font-family='"Liberation Serif", serif' fill="#262626" stroke="#262626" stroke-width="0.15" textLength="6.73" lengthAdjust="spacingAndGlyphs">z</text>
<text x="952.30" y="257.56" font-size="14.80" font-family='"Liberation Serif", serif' fill="#262626" stroke="#262626" stroke-width="0.15" textLength="10.18" lengthAdjust="spacingAndGlyphs">=</text>
<text x="962.31" y="256.80" font-size="14.39" font-family='"Liberation Serif", serif' fill="#262626" stroke="#262626" stroke-width="0.15" textLength="18.11" lengthAdjust="spacingAndGlyphs">17</text>
<text x="920.14" y="293.00" font-size="15.70" font-family='"Liberation Serif", serif' fill="#262626" stroke="#262626" stroke-width="0.15" textLength="13.22" lengthAdjust="spacingAndGlyphs">m</text>
<text x="934.90" y="295.89" font-size="21.97" font-family='"Liberation Serif", serif' fill="#262626" stroke="#262626" stroke-width="0.15" textLength="8.70" lengthAdjust="spacingAndGlyphs">/</text>
<text x="944.59" y="293.00" font-size="16.12" font-family='"Liberation Serif", serif' fill="#262626" stroke="#262626" stroke-width="0.15" textLength="6.73" lengthAdjust="spacingAndGlyphs">z</text>
<text x="952.30" y="293.76" font-size="14.80" font-family='"Liberation Serif", serif' fill="#262626" stroke="#262626" stroke-width="0.15" textLength="10.18" lengthAdjust="spacingAndGlyphs">=</text>
<text x="963.13" y="293.00" font-size="14.35" font-family='"Liberation Serif", serif' fill="#262626" stroke="#262626" stroke-width="0.15" textLength="17.49" lengthAdjust="spacingAndGlyphs">29</text>
<text x="920.14" y="399.40" font-size="15.70" font-family='"Liberation Serif", serif' fill="#262626" stroke="#262626" stroke-width="0.15" textLength="13.22" lengthAdjust="spacingAndGlyphs">m</text>
<text x="934.90" y="402.29" font-size="21.97" font-family='"Liberation Serif", serif' fill="#262626" stroke="#262626" stroke-width="0.15" textLength="8.70" lengthAdjust="spacingAndGlyphs">/</text>
<text x="944.59" y="399.40" font-size="16.12" font-family='"Liberation Serif", serif' fill="#262626" stroke="#262626" stroke-width="0.15" textLength="6.73" lengthAdjust="spacingAndGlyphs">z</text>
<text x="952.30" y="400.16" font-size="14.80" font-family='"Liberation Serif", serif' fill="#262626" stroke="#262626" stroke-width="0.15" textLength="10.18" lengthAdjust="spacingAndGlyphs">=</text>
<text x="963.19" y="399.40" font-size="14.80" font-family='"Liberation Serif", serif' fill="#262626" stroke="#262626" stroke-width="0.15" textLength="9.23" lengthAdjust="spacingAndGlyphs">2</text>
<text x="920.14" y="595.80" font-size="15.70" font-family='"Liberation Serif", serif' fill="#262626" stroke="#262626" stroke-width="0.15" textLength="13.22" lengthAdjust="spacingAndGlyphs">m</text>
<text x="934.90" y="598.69" font-size="21.97" font-family='"Liberation Serif", serif' fill="#262626" stroke="#262626" stroke-width="0.15" textLength="8.70" lengthAdjust="spacingAndGlyphs">/</text>
<text x="944.59" y="595.80" font-size="16.12" font-family='"Liberation Serif", serif' fill="#262626" stroke="#262626" stroke-width="0.15" textLength="6.73" lengthAdjust="spacingAndGlyphs">z</text>
<text x="952.30" y="596.56" font-size="14.80" font-family='"Liberation Serif", serif' fill="#262626" stroke="#262626" stroke-width="0.15" textLength="10.18" lengthAdjust="spacingAndGlyphs">=</text>
<text x="964.80" y="595.80" font-size="13.63" font-family='"Liberation Serif", serif' fill="#262626" stroke="#262626" stroke-width="0.15" textLength="5.68" lengthAdjust="spacingAndGlyphs">1</text>
<g clip-path="url(#cT)">
<path d="M88.5,130C88.9,130.2 90.1,131.3 90.9,131.5C91.7,131.7 92.2,131.2 93.1,130.9C94,130.6 95.2,129.8 96.1,129.4C97,129 97.7,129.2 98.3,128.5C98.9,127.8 99.3,126.7 99.8,125.3C100.3,123.9 100.7,120.5 101.2,120.1C101.7,119.7 102.2,123.6 102.7,123.1C103.2,122.6 103.7,118.7 104.2,117.2C104.7,115.7 105.2,115 105.6,114.3C106,113.6 106.3,113.8 106.8,112.8C107.2,111.8 107.8,108.8 108.3,108.4C108.8,108 109.4,110.7 109.8,110.6C110.2,110.5 110.4,107.3 110.8,107.6C111.2,107.8 111.6,112.3 112,112.1C112.4,111.9 112.9,106.8 113.3,106.2C113.7,105.6 113.9,106.6 114.2,108.4C114.5,110.2 114.7,123.6 114.9,117.2C115.2,110.8 115.4,85.4 115.7,70C116,54.6 116.3,33.9 116.6,25C116.9,16.1 117.1,14 117.4,16.5C117.7,19 117.9,25.3 118.2,40C118.5,54.7 118.9,98 119.2,104.7C119.5,111.4 119.9,88.7 120.3,80C120.7,71.3 121.4,53.4 121.8,52.6C122.2,51.8 122.4,65.7 122.8,75C123.2,84.3 123.5,106.4 124,108.4C124.5,110.4 125.4,92.4 125.9,86.8C126.4,81.2 126.7,76.2 127,75C127.3,73.8 127.6,82.1 128,79.4C128.4,76.7 128.8,64.9 129.2,58.8C129.6,52.7 130,42.6 130.4,42.6C130.8,42.6 131.1,50 131.4,58.8C131.7,67.6 131.7,89.2 132.1,95.6C132.5,102 133,104.2 133.6,97C134.2,89.8 134.9,57.3 135.4,52.2C135.9,47.1 136.1,58.2 136.5,66.2C136.9,74.2 137.4,92.6 137.7,100C138,107.4 138.1,108.3 138.3,110.6C138.6,112.8 138.9,113.9 139.2,113.5C139.5,113.1 139.8,107.4 140.2,108.4C140.6,109.4 141.3,116.6 141.7,119.4C142.1,122.2 142.3,124.7 142.7,125.3C143.1,125.9 143.4,124.3 143.9,123.1C144.4,121.9 144.9,117.8 145.4,117.9C145.9,118 146.3,122.2 146.8,123.8C147.3,125.4 147.8,128.2 148.3,127.5C148.8,126.8 149.3,122.1 149.8,119.4C150.3,116.7 151,111.7 151.5,111.3C152,110.9 152.2,115.7 152.7,117.2C153.1,118.7 153.7,122.7 154.2,120.1C154.7,117.5 155.1,103.6 155.6,101.8C156.1,100 156.6,106 157.1,109.1C157.6,112.1 157.8,119.5 158.3,120.1C158.8,120.7 159.6,113.3 160.1,112.8C160.6,112.3 161,115.8 161.5,117.2C162,118.6 162.5,119.7 163,120.9C163.5,122.1 164,123.8 164.5,124.6C165,125.4 165.4,126.2 165.9,126C166.4,125.8 166.8,124.3 167.4,123.1C168,121.9 168.9,119.8 169.6,118.7C170.3,117.6 170.9,116.4 171.5,116.5C172.1,116.6 172.4,118.3 172.9,119.4C173.4,120.5 173.9,122 174.4,123.1C174.9,124.2 175.4,126 175.9,126C176.4,126 176.8,125.9 177.4,123.1C178,120.3 178.9,114.1 179.6,109.1C180.3,104 180.9,93.5 181.5,92.8C182.1,92.1 182.4,100.2 182.9,104.7C183.4,109.2 184.1,119.6 184.7,120.1C185.2,120.6 185.7,113.1 186.2,107.6C186.7,102 187.1,90.6 187.6,86.8C188.1,83 188.6,83 189.1,84.6C189.6,86.2 190,95.1 190.6,96.4C191.2,97.7 192.1,95.9 192.8,92.6C193.5,89.3 194.3,80.2 195,76.5C195.7,72.8 196.3,70.6 196.8,70.6C197.3,70.6 197.6,71.6 198.2,76.5C198.8,81.4 199.4,97.1 200.1,100C200.8,102.9 201.5,99.2 202.1,94.1C202.7,88.9 203.3,76.4 203.8,69.1C204.3,61.7 204.9,53.7 205.3,50C205.8,46.3 206.1,50.5 206.5,47.1C206.9,43.7 207.2,35 207.5,29.4C207.8,23.8 208.1,12.5 208.5,13.2C208.9,13.9 209.3,32.8 209.7,33.8C210.1,34.8 210.5,23.5 210.9,19.1C211.3,14.7 211.6,11.4 211.9,7.4C212.2,3.4 211.9,-2.9 213,-5C218,-7.1 237,-7.1 242,-5C242.8,-2.9 242.4,1.7 242.8,7.4C243.2,13.1 243.8,23 244.3,29.4C244.8,35.8 245.1,44.6 245.7,45.6C246.2,46.6 247,34.8 247.6,35.3C248.2,35.8 248.7,43.6 249.1,48.5C249.5,53.4 249.5,59.1 250.1,64.7C250.7,70.4 251.7,78.7 252.4,82.4C253.2,86.1 253.7,86.3 254.6,86.8C255.5,87.3 257,84.8 257.9,85.3C258.8,85.8 259.4,87.9 260.1,89.7C260.8,91.5 261.4,95.8 261.9,96.3C262.4,96.8 262.7,94.4 263.1,92.6C263.6,90.8 264,85 264.6,85.3C265.2,85.5 265.9,95.6 266.5,94.1C267.1,92.6 267.8,79.8 268.2,76.5C268.6,73.2 268.7,72.3 269,74.3C269.3,76.2 269.7,83.9 270,88.2C270.3,92.5 270.5,98.4 270.9,100C271.3,101.6 272,97.7 272.6,97.8C273.2,97.9 273.8,99.3 274.4,100.7C275,102.1 275.7,104.9 276.3,105.9C276.9,106.9 277.5,108.3 278.2,106.6C278.9,104.9 279.6,98.4 280.3,95.6C281,92.8 281.6,89 282.2,89.7C282.8,90.4 283.5,96.5 284.1,100C284.7,103.5 285.3,111 285.9,111C286.5,111 287,102.6 287.6,100C288.2,97.4 289,96.1 289.6,95.6C290.2,95.1 290.9,95.1 291.5,97.1C292.1,99.1 292.6,104.1 293.2,107.4C293.8,110.7 294.4,117.2 295,116.9C295.6,116.7 296.2,109.2 296.9,105.9C297.6,102.6 298.4,97.8 299.1,96.8C299.8,95.8 300.7,98 301.3,100C301.9,102 302.2,105.5 302.8,108.8C303.4,112.1 304.1,119.9 304.7,119.9C305.3,119.9 305.8,112.8 306.5,108.8C307.2,104.8 308.4,96.8 309.1,95.6C309.8,94.4 310.3,98.3 310.9,101.5C311.5,104.7 312,111.3 312.6,114.7C313.2,118.1 313.7,123.1 314.3,122.1C314.9,121.1 315.8,113.5 316.5,108.8C317.2,104.1 318.1,95 318.7,93.8C319.3,92.6 319.9,98 320.4,101.5C320.9,105 321.4,110.9 321.9,114.7C322.4,118.5 322.8,125.3 323.4,124.3C324,123.3 324.5,114.2 325.3,108.8C326.1,103.4 327.4,94.1 328.2,91.9C329,89.7 329.4,92.3 330,95.6C330.6,98.9 331.2,107.4 331.8,111.8C332.4,116.2 333,122.6 333.7,122.1C334.4,121.6 335.1,114.5 335.9,108.8C336.7,103.1 337.8,90.6 338.5,87.9C339.2,85.2 339.7,89.1 340.3,92.6C340.9,96.1 341.6,104.4 342.2,108.8C342.8,113.2 343.1,119.3 343.7,119.2C344.3,119.1 345,112.8 345.7,108.4C346.4,104 347.1,96.6 347.8,93C348.5,89.4 349.1,86.1 349.8,86.6C350.5,87.1 351.1,91 351.9,96C352.6,101 353.5,116.1 354.3,116.6C355.1,117.1 355.8,103.4 356.5,99.1C357.2,94.8 357.9,92.8 358.6,90.9C359.3,89 360,87.3 360.7,87.8C361.4,88.3 362,90.2 362.7,94C363.4,97.8 364.2,110.2 365,110.5C365.8,110.8 366.6,99.1 367.4,96C368.2,92.9 369.1,92.8 369.9,91.9C370.7,91 371.3,90.2 372,90.7C372.7,91.2 373.3,92.6 374,95C374.7,97.4 375.5,105.1 376.3,105.3C377.1,105.5 377.9,97.6 378.7,96C379.5,94.4 380.4,95.4 381.3,95.5C382.2,95.6 383,95.9 383.8,96.6C384.6,97.3 385.6,98.7 386.4,99.6C387.2,100.5 387.8,102.1 388.5,102.2C389.2,102.3 389.8,100.4 390.5,100.2C391.2,100 391.9,101.2 392.6,101C393.3,100.8 393.8,98.7 394.6,99.1C395.4,99.5 396.3,102 397.2,103.3C398.1,104.6 398.9,106.3 399.8,106.9C400.7,107.5 401.5,106.7 402.4,106.9C403.2,107.1 404,107.7 404.9,108.2C405.8,108.7 406.6,109.7 407.5,110C408.4,110.3 409.2,110.5 410.1,110.3C411.1,110.1 412.2,108.6 413.2,108.9C414.2,109.2 415.3,111.3 416.3,112C417.3,112.7 418.4,112.7 419.4,113C420.4,113.3 421.4,113.5 422.4,113.6C423.4,113.7 425,113.6 425.5,113.6" fill="none" stroke="#E99E1F" stroke-width="1.6" stroke-linejoin="round"/>
<path d="M88.7,183.4C89,183.2 89.7,182.5 90.2,181.9C90.7,181.3 91.2,180.8 91.7,179.7C92.2,178.6 92.6,177.3 93.1,175.3C93.6,173.3 94.1,169.7 94.6,167.9C95.1,166.1 95.6,165.3 96.1,164.3C96.6,163.3 97.2,163.4 97.6,162.1C98,160.8 98.2,158.4 98.6,156.2C99,154 99.4,150.7 99.8,148.8C100.2,147 100.5,145.5 100.9,145.1C101.3,144.7 101.7,145.8 102,146.6C102.3,147.3 102.4,150 102.7,149.6C103,149.2 103.5,146.1 103.9,144.4C104.3,142.7 104.5,139.9 104.9,139.3C105.3,138.7 106,140.8 106.4,140.7C106.8,140.6 107,138.6 107.4,138.5C107.8,138.4 108.2,140.1 108.6,140C109,139.9 109.4,137.7 109.8,137.8C110.2,137.9 110.4,139.6 110.8,140.7C111.2,141.8 111.8,143.3 112.3,144.4C112.8,145.5 113.3,147 113.7,147.4C114.1,147.8 114.5,148.3 114.9,146.6C115.3,144.9 115.5,138.9 115.9,137.1C116.3,135.3 117,135.7 117.4,135.6C117.8,135.5 118,133.9 118.4,136.3C118.8,138.8 119.2,148.2 119.6,150.3C120,152.4 120.2,150.4 120.6,148.8C121,147.2 121.3,143 121.8,140.7C122.2,138.4 122.8,134 123.3,134.9C123.8,135.8 124.1,143.8 124.5,145.9C124.9,148 125.5,149.4 125.9,147.4C126.3,145.4 126.6,135.1 127,134.1C127.4,133.1 127.7,138.1 128.1,141.5C128.5,144.9 128.8,151.9 129.2,154.7C129.6,157.5 130,161.6 130.4,158.4C130.8,155.2 131.1,139.5 131.4,135.6C131.7,131.7 132,131.3 132.4,134.9C132.8,138.5 133.2,152.9 133.6,156.9C134,160.9 134.4,161.7 134.8,159.1C135.2,156.5 135.8,145.5 136.2,141.5C136.6,137.5 136.9,132.7 137.3,134.9C137.7,137.1 138.2,150.9 138.7,154.7C139.2,158.5 139.6,159.8 140.2,157.6C140.8,155.4 141.6,143.9 142.1,141.5C142.6,139.1 142.7,141 143.1,142.9C143.5,144.8 144.1,151.2 144.6,153.2C145.1,155.2 145.4,155.3 145.8,154.7C146.2,154.1 146.9,150.1 147.3,149.6C147.7,149.1 147.9,150.3 148.3,151.8C148.7,153.3 149.1,158.9 149.5,158.4C149.9,157.9 150.4,152.4 150.9,148.8C151.4,145.2 151.9,137.3 152.4,137.1C152.9,136.9 153.4,143.5 153.9,147.4C154.4,151.3 155,158.2 155.4,160.6C155.8,163 155.9,163.6 156.4,162.1C156.9,160.6 157.7,152.1 158.3,151.8C158.9,151.6 159.6,158.7 160.1,160.6C160.6,162.5 161,163.6 161.5,163.5C162,163.4 162.5,159.4 163,159.9C163.5,160.4 164,164.6 164.5,166.5C165,168.4 165.4,171.4 165.9,171.6C166.4,171.8 166.9,169.4 167.4,167.9C167.9,166.4 168.4,162.9 168.9,162.8C169.4,162.7 169.9,165.7 170.4,167.2C170.9,168.7 171.2,170.6 171.8,171.6C172.4,172.6 173.3,172.7 174,173.1C174.7,173.5 175.5,173.6 176.2,173.8C176.9,174.1 177.3,174.4 178.1,174.6C178.9,174.8 180.2,174.9 181,175C181.8,175.1 182.6,174.8 183.2,175.3C183.8,175.8 184.2,177.3 184.7,178.2C185.2,179 185.6,180.3 186.2,180.4C186.8,180.5 187.8,179.4 188.4,179C189,178.6 189.3,177.8 189.9,178.2C190.5,178.6 191.4,180.6 192.1,181.2C192.8,181.8 193.7,181.7 194.3,181.9C194.9,182.1 195.2,183 195.7,182.6C196.2,182.2 196.6,179.7 197.2,179.7C197.8,179.7 198.8,182 199.4,182.6C200,183.2 200.3,184.5 200.9,183.4C201.5,182.3 202.4,175.9 203.1,176C203.8,176.1 204.6,182.6 205.3,184.1C206,185.6 206.8,186 207.5,184.9C208.2,183.8 208.8,177.5 209.7,177.5C210.5,177.5 211.7,183.6 212.6,184.9C213.5,186.2 214.2,187 214.9,185.6C215.7,184.2 216.4,176.6 217.1,176.5C217.8,176.4 218.6,183.3 219.3,184.9C220,186.5 220.7,187.4 221.5,186.3C222.3,185.2 223.6,178.3 224.4,178.2C225.2,178.1 225.9,184.1 226.6,185.6C227.3,187.1 227.6,188.2 228.5,187.1C229.4,186 230.9,179.4 231.8,179C232.7,178.6 233.3,184.1 234,184.9C234.7,185.8 235.5,184.8 236.2,184.1C236.9,183.3 237.7,180.4 238.4,180.4C239.1,180.4 239.8,183.8 240.6,184.1C241.4,184.3 242.7,182.6 243.5,181.9C244.3,181.2 244.8,179.6 245.7,179.7C246.6,179.8 247.8,182.5 248.7,182.6C249.6,182.7 250.2,181.2 250.9,180.4C251.6,179.6 252.2,178 253.1,177.9C253.9,177.8 255.2,180.1 256,179.9C256.9,179.7 257.6,177.7 258.2,176.5C258.8,175.3 259.1,173.9 259.6,173C260.1,172.1 260.7,170.7 261.2,171C261.7,171.3 262.1,173.6 262.7,174.6C263.2,175.6 263.8,177.9 264.5,177.2C265.2,176.5 265.9,173.1 266.8,170.5C267.7,167.9 268.8,161.9 269.6,161.7C270.4,161.5 270.9,167.6 271.5,169.4C272.1,171.2 272.6,173.9 273.3,172.5C274,171.1 274.8,164.9 275.6,161.2C276.4,157.5 277.2,150.8 277.9,150.4C278.6,150.1 279.1,156.3 279.7,159.1C280.3,161.9 280.9,167.7 281.6,167.4C282.3,167.1 283,161.7 283.8,157.1C284.6,152.5 285.9,140.1 286.7,139.6C287.5,139.1 287.9,150 288.5,154C289.1,158 289.8,164.7 290.5,163.8C291.2,162.9 292,153.4 292.9,148.8C293.8,144.2 294.9,136.2 295.7,136C296.5,135.8 297,143.8 297.7,147.8C298.4,151.8 299.1,160.2 299.8,160.2C300.6,160.2 301.3,152.2 302.2,147.8C303.1,143.4 304.2,134.2 305,133.9C305.8,133.6 306.3,141.5 307,145.7C307.7,149.9 308.6,159.1 309.4,159.1C310.2,159.1 310.8,150.5 311.6,145.7C312.5,140.9 313.6,130.8 314.5,130.3C315.4,129.8 316,137.6 316.8,142.7C317.6,147.8 318.3,160.5 319.1,160.7C319.9,160.9 320.6,148.3 321.4,143.7C322.2,139.1 323,132.1 323.8,132.9C324.6,133.8 325.2,143.5 326.1,148.8C327,154.1 328.3,165 329.2,164.8C330.1,164.6 330.9,152.6 331.7,147.8C332.5,143 333.3,135.5 334.1,136C334.9,136.5 335.5,145.1 336.4,150.9C337.3,156.7 338.5,171 339.4,171C340.3,171 341.2,156.8 342,150.9C342.8,145 343.3,135.4 344,135.4C344.7,135.4 345.3,144.9 346,150.9C346.7,156.9 347.6,166.9 348.3,171.5C349,176.1 349.7,179.1 350.4,178.2C351.1,177.3 351.7,172.7 352.4,166.3C353.1,159.9 353.9,140.8 354.7,139.6C355.5,138.4 356.4,152.6 357.1,159.1C357.8,165.6 358.4,174.8 359.1,178.7C359.8,182.6 360.5,184.2 361.2,182.8C361.9,181.4 362.8,175.7 363.5,170.5C364.2,165.3 364.9,151.6 365.6,151.4C366.3,151.2 367.2,164.2 367.9,169.4C368.6,174.6 369.1,180.1 369.9,182.8C370.7,185.5 371.7,185.9 372.5,185.4C373.3,184.9 373.9,182.4 374.6,179.7C375.3,177 376.1,169.2 376.8,169.2C377.5,169.2 378.1,177 378.7,179.7C379.3,182.4 379.9,184.3 380.7,185.4C381.5,186.5 382.4,186.7 383.3,186.4C384.2,186.2 385,184.6 385.9,183.9C386.8,183.2 387.6,182.1 388.5,182.3C389.4,182.5 390.1,184.2 391,184.9C391.9,185.6 392.5,186.4 393.6,186.7C394.7,186.9 396.3,186.4 397.7,186.4C399.1,186.4 399.8,186.6 401.9,186.7C404,186.8 406.2,186.9 410.1,186.9C414,186.9 422.9,186.9 425.5,186.9" fill="none" stroke="#000" stroke-width="1.6" stroke-linejoin="round"/>
</g>
<path d="M88.7,7.9 H426.4" stroke="#111" stroke-width="1.3" fill="none"/>
<path d="M88.7,7.9 V620.4" stroke="#000" stroke-width="1.6"/>
<path d="M88.7,187.6 H426.4" stroke="#000" stroke-width="1.6"/>
<path d="M88.7,187.2h7M88.7,184.2h4M88.7,181.2h4M88.7,178.2h4M88.7,175.2h4M88.7,172.2h4M88.7,169.2h4M88.7,166.2h4M88.7,163.2h4M88.7,160.2h4M88.7,157.2h7M88.7,154.2h4M88.7,151.2h4M88.7,148.2h4M88.7,145.2h4M88.7,142.2h4M88.7,139.2h4M88.7,136.2h4M88.7,133.2h4M88.7,130.2h4M88.7,127.2h7M88.7,124.2h4M88.7,121.2h4M88.7,118.2h4M88.7,115.2h4M88.7,112.2h4M88.7,109.2h4M88.7,106.2h4M88.7,103.2h4M88.7,100.2h4M88.7,97.2h7M88.7,94.2h4M88.7,91.2h4M88.7,88.2h4M88.7,85.2h4M88.7,82.2h4M88.7,79.2h4M88.7,76.2h4M88.7,73.2h4M88.7,70.2h4M88.7,67.2h7M88.7,64.2h4M88.7,61.2h4M88.7,58.2h4M88.7,55.2h4M88.7,52.2h4M88.7,49.2h4M88.7,46.2h4M88.7,43.2h4M88.7,40.2h4M88.7,37.2h7M88.7,34.2h4M88.7,31.2h4M88.7,28.2h4M88.7,25.2h4M88.7,22.2h4M88.7,19.2h4M88.7,16.2h4M88.7,13.2h4M88.7,10.2h4M88.9,7.9v2M88.9,187.6v-2M102.9,7.9v2M102.9,187.6v-2M117,7.9v3.5M117,187.6v-4M131,7.9v2M131,187.6v-2M145,7.9v2M145,187.6v-2M159,7.9v2M159,187.6v-2M173.1,7.9v3.5M173.1,187.6v-4M187.1,7.9v2M187.1,187.6v-2M201.1,7.9v2M201.1,187.6v-2M215.1,7.9v2M215.1,187.6v-2M229.2,7.9v3.5M229.2,187.6v-4M243.2,7.9v2M243.2,187.6v-2M257.2,7.9v2M257.2,187.6v-2M271.2,7.9v2M271.2,187.6v-2M285.2,7.9v3.5M285.2,187.6v-4M299.3,7.9v2M299.3,187.6v-2M313.3,7.9v2M313.3,187.6v-2M327.3,7.9v2M327.3,187.6v-2M341.4,7.9v3.5M341.4,187.6v-4M355.4,7.9v2M355.4,187.6v-2M369.4,7.9v2M369.4,187.6v-2M383.4,7.9v2M383.4,187.6v-2M397.5,7.9v3.5M397.5,187.6v-4M411.5,7.9v2M411.5,187.6v-2M425.5,7.9v2M425.5,187.6v-2" stroke="#000" stroke-width="1.2" fill="none"/>
<text x="75.24" y="187.66" font-size="14.52" font-family='"Liberation Serif", serif' fill="#262626" stroke="#262626" stroke-width="0.15" textLength="8.73" lengthAdjust="spacingAndGlyphs">0</text>
<text x="76.60" y="163.20" font-size="14.84" font-family='"Liberation Serif", serif' fill="#262626" stroke="#262626" stroke-width="0.15" textLength="6.25" lengthAdjust="spacingAndGlyphs">1</text>
<text x="75.09" y="132.90" font-size="14.80" font-family='"Liberation Serif", serif' fill="#262626" stroke="#262626" stroke-width="0.15" textLength="9.23" lengthAdjust="spacingAndGlyphs">2</text>
<text x="75.04" y="102.76" font-size="14.59" font-family='"Liberation Serif", serif' fill="#262626" stroke="#262626" stroke-width="0.15" textLength="8.96" lengthAdjust="spacingAndGlyphs">3</text>
<text x="75.59" y="72.90" font-size="14.89" font-family='"Liberation Serif", serif' fill="#262626" stroke="#262626" stroke-width="0.15" textLength="7.96" lengthAdjust="spacingAndGlyphs">4</text>
<text x="74.83" y="42.76" font-size="14.75" font-family='"Liberation Serif", serif' fill="#262626" stroke="#262626" stroke-width="0.15" textLength="9.18" lengthAdjust="spacingAndGlyphs">5</text>
<text x="75.16" y="16.66" font-size="14.59" font-family='"Liberation Serif", serif' fill="#262626" stroke="#262626" stroke-width="0.15" textLength="8.66" lengthAdjust="spacingAndGlyphs">6</text>
<text transform="translate(63.70,109.80) rotate(-90) scale(1.1406,1)" x="-0.13" y="-0.13" font-size="13.22" font-family='"Liberation Serif", serif' fill="#262626" stroke="#262626" stroke-width="0.15" textLength="21.30" lengthAdjust="spacing">Abs</text>
<text x="429.32" y="187.75" font-size="15.12" font-family='"Liberation Serif", serif' fill="#EAA535" stroke="#EAA535" stroke-width="0.15" textLength="8.97" lengthAdjust="spacingAndGlyphs">0</text>
<text x="428.41" y="150.55" font-size="15.12" font-family='"Liberation Serif", serif' fill="#EAA535" stroke="#EAA535" stroke-width="0.15" textLength="27.07" lengthAdjust="spacingAndGlyphs">100</text>
<text x="429.23" y="107.55" font-size="15.12" font-family='"Liberation Serif", serif' fill="#EAA535" stroke="#EAA535" stroke-width="0.15" textLength="26.23" lengthAdjust="spacingAndGlyphs">200</text>
<text x="429.16" y="64.75" font-size="15.12" font-family='"Liberation Serif", serif' fill="#EAA535" stroke="#EAA535" stroke-width="0.15" textLength="26.31" lengthAdjust="spacingAndGlyphs">300</text>
<text x="429.66" y="21.70" font-size="15.12" font-family='"Liberation Serif", serif' fill="#EAA535" stroke="#EAA535" stroke-width="0.15" textLength="25.79" lengthAdjust="spacingAndGlyphs">400</text>
<text transform="translate(470.00,167.60) rotate(-90) scale(1.0667,1)" x="-0.44" y="0.00" font-size="15.42" font-family='"Liberation Serif", serif' fill="#EAA535" stroke="#EAA535" stroke-width="0.15" textLength="28.29" lengthAdjust="spacing">Flux</text>
<text transform="translate(470.00,130.00) rotate(-90) scale(1.1500,1)" x="-0.68" y="0.00" font-size="15.42" font-family='"Liberation Serif", serif' fill="#EAA535" stroke="#EAA535" stroke-width="0.15" textLength="33.09" lengthAdjust="spacing">(a.u.)</text>
<text transform="translate(470.00,83.75) rotate(-90)" x="-0.80" y="0.00" font-size="15.42" font-family='"Liberation Serif", serif' fill="#EAA535" stroke="#EAA535" stroke-width="0.15" textLength="9.09" lengthAdjust="spacingAndGlyphs">+</text>
<text transform="translate(470.00,66.90) rotate(-90) scale(1.1500,1)" x="-0.59" y="0.00" font-size="15.42" font-family='"Liberation Serif", serif' fill="#EAA535" stroke="#EAA535" stroke-width="0.15" textLength="35.29" lengthAdjust="spacing">offset</text>
<g clip-path="url(#cB)">
<path d="M89,610.2C89.9,610.2 92.9,610.2 94.6,610.2C96.3,610.2 98,610.2 99.2,610.2C100.4,610.2 100.8,610.2 101.6,610.2C102.4,610.2 103.1,610.2 103.9,610.2C104.7,610.2 105.8,610.2 106.5,610.2C107.2,610.2 107.3,610.2 107.8,610.2C108.3,610.2 109,610.2 109.5,610.2C110,610.2 110.2,610.2 110.8,610.2C111.4,610.2 112.4,610.2 113.1,610.2C113.8,610.2 114.5,610.2 115.1,610.2C115.6,610.2 116,610.2 116.4,610.2C116.8,610.2 117,610.2 117.3,610.2C117.6,610.2 117.8,610.2 118.1,610.2C118.3,610.2 118.6,610.2 118.8,610.2C119,610.2 118.9,610.2 119.1,610.2C119.2,610.2 119.4,610.2 119.7,610.2C120,610.2 120.7,610.2 121.1,610.2C121.5,610.2 121.8,610.2 122.1,610.2C122.4,610.2 122.7,610.2 123.1,610.2C123.5,610.2 123.9,610.2 124.4,610.2C124.9,610.2 125.5,610.2 126,610.2C126.5,610.2 127.2,610.2 127.7,610.2C128.2,610.2 128.5,610.2 129,610.2C129.5,610.2 130.2,610.2 130.7,610.2C131.2,610.2 131.6,610.2 132,610.2C132.4,610.2 132.9,610.2 133.3,610.2C133.7,610.2 134.2,610.2 134.6,610.2C135,610.2 135.6,610.2 136,610.2C136.4,610.2 136.6,610.2 136.9,610.2C137.2,610.2 137.5,610.2 137.9,610.2C138.3,610.2 138.9,610.2 139.3,610.2C139.8,610.2 140.2,610.2 140.6,610.2C141,610.2 141.5,610.2 141.9,610.2C142.3,610.2 142.6,610.2 143.2,610.2C143.8,610.2 144.7,610.2 145.5,610.1C146.3,610.1 146.8,610.1 147.9,610.1C149,610.1 151,610.1 152,610.1C153,610.1 153.3,610.1 153.9,610.1C154.5,610.1 155,610.1 155.8,610.1C156.6,610.1 157.8,610.1 158.7,610.1C159.6,610.1 160.3,610.1 161.5,610.1C162.7,610.1 164.4,610.1 165.8,610.1C167.2,610.1 168.9,610.1 170.1,610.1C171.3,610.1 171.9,610.1 173,610.1C174.1,610.1 175.7,610.1 176.8,610.1C177.9,610.1 178.8,610.1 179.7,610.1C180.6,610.1 181.2,610 182.1,610C183,610 183.8,610.1 184.9,610.1C186,610.1 187.5,609.9 188.7,609.9C189.9,609.9 190.7,610 192.1,609.9C193.5,609.9 195.6,609.7 196.9,609.7C198.2,609.7 199.2,609.9 200.2,609.9C201.2,610 202.2,609.9 203.1,609.8C204,609.8 204.6,609.6 205.5,609.6C206.4,609.5 207.9,609.3 208.8,609.3C209.7,609.3 209.9,609.5 210.7,609.4C211.5,609.4 212.6,609.2 213.6,609.1C214.6,609.1 215.7,609.2 216.4,609.2C217.1,609.1 217.3,609 217.8,608.9C218.3,608.7 218.9,608.4 219.3,608.2C219.8,608 220.2,607.8 220.5,607.7C220.8,607.6 221.1,607.5 221.3,607.5C221.6,607.4 221.8,607.4 222,607.4C222.2,607.4 222.5,607.4 222.7,607.5C222.9,607.5 223.2,607.6 223.3,607.7C223.4,607.8 223.3,607.6 223.5,607.8C223.8,607.9 224.6,608.5 225.1,608.7C225.6,608.8 226,608.9 226.4,608.9C226.8,608.9 227.3,608.8 227.7,608.6C228.1,608.4 228.6,608.1 228.9,607.9C229.2,607.7 229.3,607.4 229.5,607.3C229.7,607.1 229.8,607.1 230,607.1C230.2,607 230.3,607 230.4,607C230.5,607 230.7,607 230.8,607.1C231,607.1 231.1,607.1 231.3,607.3C231.5,607.4 231.7,607.7 231.8,607.9C231.9,608.1 231.8,608.4 232.1,608.6C232.4,608.8 233.2,609 233.7,609.1C234.2,609.1 234.5,609.1 235,609.1C235.5,609.1 236.3,609.2 236.9,609.2C237.5,609.2 238.2,609.1 238.8,609.1C239.4,609.1 239.9,609.2 240.4,609.3C240.9,609.3 241.2,609.4 241.7,609.5C242.2,609.6 243,609.7 243.6,609.7C244.2,609.8 244.6,609.8 245.1,609.8C245.6,609.8 246.1,609.8 246.6,609.8C247.1,609.8 247.6,609.8 248.1,609.8C248.6,609.8 249,609.8 249.6,609.8C250.2,609.9 251,609.9 251.8,609.9C252.7,610 253.5,610 254.7,610C255.9,610 257.8,610 259.1,610C260.5,610 261.8,610 262.8,610C263.8,610 264.3,610 265,610C265.7,610 266.5,610 267.2,610C267.9,610 268.5,610 269.1,610C269.7,610 269.9,610 270.6,610C271.3,610 272.2,610 273.1,610C274,610 275.1,610 276,610C276.9,610 277.4,610 278.5,610C279.6,610 281.4,610 282.6,610C283.8,610 284.4,610 285.6,610C286.8,610 288.4,610 290,610C291.6,610 293.5,610 295.1,610C296.7,610 298,610 299.6,610C301.2,610 303.1,610 304.7,610C306.3,610 307.5,610 309.1,610C310.7,610 312.7,610 314.3,610C315.9,610 317.1,610 318.7,610C320.3,610 322.2,610 323.8,610C325.4,610 326.6,610 328.2,610C329.8,610 331.8,610 333.5,610C335.2,610 336.8,610 338.5,610C340.2,610 341.8,610 343.6,610C345.4,610 347.4,610 349.1,610C350.9,610 352.4,610 354.1,610C355.9,610 357.8,610 359.6,610C361.5,610 363.4,610 365.2,610C367,610 368.9,610 370.7,609.9C372.5,609.9 374.6,609.9 376.2,609.9C377.8,609.9 378.6,609.9 380.3,609.9C382,609.9 384.3,609.9 386.3,609.9C388.3,609.9 390.3,609.9 392.3,609.9C394.3,609.9 396.3,609.9 398.3,609.9C400.3,609.9 402.4,609.9 404.4,609.9C406.4,609.9 408.6,609.9 410.4,609.9C412.2,609.9 413.7,609.9 415.4,609.9C417.1,609.9 418.8,609.9 420.5,609.9C422.2,609.9 424.7,609.9 425.5,609.9" fill="none" stroke="#2E2E52" stroke-width="1.35" stroke-linejoin="round"/>
<path d="M89,589.9C89.9,589.9 92.9,589.9 94.6,589.9C96.3,589.9 98,589.9 99.2,589.9C100.4,589.9 100.8,589.9 101.6,589.9C102.4,589.9 103.1,589.9 103.9,589.9C104.7,589.9 105.8,589.8 106.5,589.8C107.2,589.8 107.3,589.8 107.8,589.8C108.3,589.8 109,589.8 109.5,589.8C110,589.8 110.2,589.8 110.8,589.8C111.4,589.8 112.4,589.8 113.1,589.8C113.8,589.8 114.5,589.9 115.1,589.9C115.6,589.8 116,589.7 116.4,589.7C116.8,589.6 117,589.5 117.3,589.4C117.6,589.4 117.8,589.3 118.1,589.3C118.3,589.3 118.6,589.4 118.8,589.4C119,589.5 118.9,589.5 119.1,589.5C119.2,589.6 119.4,589.8 119.7,589.8C120,589.8 120.7,589.7 121.1,589.6C121.5,589.6 121.8,589.5 122.1,589.5C122.4,589.6 122.7,589.6 123.1,589.7C123.5,589.7 123.9,589.8 124.4,589.9C124.9,589.9 125.5,589.8 126,589.7C126.5,589.7 127.2,589.7 127.7,589.7C128.2,589.7 128.5,589.7 129,589.6C129.5,589.6 130.2,589.5 130.7,589.5C131.2,589.5 131.6,589.6 132,589.6C132.4,589.7 132.9,589.8 133.3,589.8C133.7,589.8 134.2,589.7 134.6,589.7C135,589.7 135.6,589.6 136,589.6C136.4,589.6 136.6,589.6 136.9,589.7C137.2,589.7 137.5,589.8 137.9,589.9C138.3,589.9 138.9,589.9 139.3,589.9C139.8,589.9 140.2,589.9 140.6,589.9C141,589.9 141.5,589.9 141.9,589.9C142.3,590 142.6,590 143.2,590C143.8,590 144.7,589.9 145.5,589.9C146.3,589.9 146.8,590 147.9,590C149,590 151,589.9 152,589.9C153,589.9 153.3,590 153.9,589.9C154.5,589.9 155,589.9 155.8,589.9C156.6,589.9 157.8,590 158.7,590C159.6,590 160.3,589.9 161.5,589.9C162.7,590 164.4,590 165.8,590C167.2,590 168.9,590 170.1,590C171.3,590 171.9,590 173,590C174.1,590 175.7,590.1 176.8,590.1C177.9,590 178.8,589.9 179.7,589.8C180.6,589.7 181.2,589.5 182.1,589.5C183,589.5 183.8,590 184.9,589.9C186,589.9 187.5,589.1 188.7,589C189.9,588.9 190.7,589.3 192.1,589.2C193.5,589 195.6,588.1 196.9,588.1C198.2,588.1 199.2,589.1 200.2,589.2C201.2,589.3 202.2,589 203.1,588.7C204,588.4 204.6,587.8 205.5,587.3C206.4,586.9 207.9,586.2 208.8,586.1C209.7,586 209.9,586.9 210.7,586.8C211.5,586.7 212.6,585.6 213.6,585.4C214.6,585.2 215.7,585.8 216.4,585.6C217.1,585.5 217.3,585.1 217.8,584.5C218.3,583.9 218.9,582.9 219.3,582.1C219.8,581.2 220.2,580.2 220.5,579.7C220.8,579.1 221.1,578.9 221.3,578.6C221.6,578.4 221.8,578.1 222,578.1C222.2,578.2 222.5,578.4 222.7,578.6C222.9,578.9 223.2,579.4 223.3,579.7C223.4,579.9 223.3,579.4 223.5,580.1C223.8,580.8 224.6,583.1 225.1,583.9C225.6,584.7 226,585 226.4,584.8C226.8,584.7 227.3,583.9 227.7,583C228.1,582.1 228.6,580.5 228.9,579.4C229.2,578.3 229.3,577.1 229.5,576.5C229.7,575.8 229.8,575.6 230,575.4C230.2,575.2 230.3,575.2 230.4,575.2C230.5,575.2 230.7,575.2 230.8,575.4C231,575.6 231.1,575.8 231.3,576.5C231.5,577.1 231.7,578.3 231.8,579.4C231.9,580.5 231.8,582 232.1,583C232.4,583.9 233.2,584.8 233.7,585.2C234.2,585.6 234.5,585.2 235,585.3C235.5,585.4 236.3,585.8 236.9,585.8C237.5,585.9 238.2,585.4 238.8,585.5C239.4,585.5 239.9,585.8 240.4,586.2C240.9,586.5 241.2,587.1 241.7,587.4C242.2,587.8 243,588.2 243.6,588.4C244.2,588.6 244.6,588.8 245.1,588.9C245.6,589 246.1,588.9 246.6,588.8C247.1,588.8 247.6,588.7 248.1,588.8C248.6,588.8 249,589 249.6,589.1C250.2,589.2 251,589.4 251.8,589.5C252.7,589.6 253.5,589.6 254.7,589.7C255.9,589.7 257.8,589.7 259.1,589.8C260.5,589.8 261.8,589.9 262.8,589.9C263.8,589.9 264.3,589.8 265,589.8C265.7,589.8 266.5,589.9 267.2,589.9C267.9,589.9 268.5,589.7 269.1,589.7C269.7,589.8 269.9,589.9 270.6,590C271.3,590 272.2,590 273.1,590C274,590 275.1,590 276,590C276.9,590 277.4,590.1 278.5,590.1C279.6,590 281.4,589.9 282.6,589.9C283.8,589.9 284.4,590.1 285.6,590.1C286.8,590.1 288.4,590 290,590C291.6,590 293.5,590.2 295.1,590.2C296.7,590.2 298,590 299.6,590C301.2,590 303.1,590.2 304.7,590.2C306.3,590.2 307.5,590 309.1,590C310.7,590 312.7,590.3 314.3,590.3C315.9,590.3 317.1,590 318.7,590C320.3,590 322.2,590.3 323.8,590.3C325.4,590.3 326.6,590 328.2,590C329.8,590 331.8,590.3 333.5,590.3C335.2,590.3 336.8,590 338.5,590C340.2,590 341.8,590.3 343.6,590.3C345.4,590.3 347.4,590 349.1,590C350.9,590 352.4,590.3 354.1,590.3C355.9,590.3 357.8,590 359.6,590C361.5,590 363.4,590.3 365.2,590.3C367,590.3 368.9,590.1 370.7,590.1C372.5,590.1 374.6,590.2 376.2,590.2C377.8,590.2 378.6,590.1 380.3,590.1C382,590.1 384.3,590.2 386.3,590.2C388.3,590.2 390.3,590.2 392.3,590.2C394.3,590.2 396.3,590.2 398.3,590.3C400.3,590.3 402.4,590.3 404.4,590.3C406.4,590.3 408.6,590.3 410.4,590.3C412.2,590.3 413.7,590.3 415.4,590.3C417.1,590.4 418.8,590.4 420.5,590.4C422.2,590.4 424.7,590.4 425.5,590.4" fill="none" stroke="#1E2A6E" stroke-width="1.35" stroke-linejoin="round"/>
<path d="M89,568.7C89.9,568.7 92.9,568.7 94.6,568.7C96.3,568.7 98,568.7 99.2,568.7C100.4,568.7 100.8,568.6 101.6,568.6C102.4,568.6 103.1,568.7 103.9,568.7C104.7,568.6 105.8,568.5 106.5,568.5C107.2,568.5 107.3,568.5 107.8,568.5C108.3,568.5 109,568.4 109.5,568.4C110,568.4 110.2,568.5 110.8,568.5C111.4,568.5 112.4,568.4 113.1,568.4C113.8,568.4 114.5,568.6 115.1,568.5C115.6,568.5 116,568.2 116.4,568.1C116.8,567.9 117,567.7 117.3,567.5C117.6,567.4 117.8,567.3 118.1,567.3C118.3,567.3 118.6,567.4 118.8,567.5C119,567.6 118.9,567.6 119.1,567.8C119.2,567.9 119.4,568.4 119.7,568.4C120,568.4 120.7,568 121.1,567.9C121.5,567.8 121.8,567.7 122.1,567.8C122.4,567.8 122.7,568 123.1,568.1C123.5,568.2 123.9,568.5 124.4,568.5C124.9,568.5 125.5,568.3 126,568.2C126.5,568.2 127.2,568.1 127.7,568.1C128.2,568 128.5,568.1 129,568C129.5,567.9 130.2,567.7 130.7,567.6C131.2,567.6 131.6,567.8 132,568C132.4,568.1 132.9,568.3 133.3,568.3C133.7,568.3 134.2,568.2 134.6,568.1C135,568 135.6,567.8 136,567.8C136.4,567.8 136.6,567.9 136.9,568C137.2,568.2 137.5,568.4 137.9,568.5C138.3,568.6 138.9,568.6 139.3,568.6C139.8,568.6 140.2,568.5 140.6,568.5C141,568.5 141.5,568.6 141.9,568.6C142.3,568.7 142.6,568.7 143.2,568.7C143.8,568.7 144.7,568.6 145.5,568.6C146.3,568.6 146.8,568.7 147.9,568.7C149,568.7 151,568.6 152,568.6C153,568.6 153.3,568.7 153.9,568.6C154.5,568.6 155,568.5 155.8,568.5C156.6,568.5 157.8,568.7 158.7,568.7C159.6,568.7 160.3,568.6 161.5,568.6C162.7,568.6 164.4,568.8 165.8,568.8C167.2,568.8 168.9,568.7 170.1,568.7C171.3,568.7 171.9,568.7 173,568.7C174.1,568.7 175.7,568.9 176.8,568.8C177.9,568.8 178.8,568.5 179.7,568.3C180.6,568.2 181.2,567.8 182.1,567.8C183,567.9 183.8,568.7 184.9,568.6C186,568.5 187.5,567.2 188.7,566.9C189.9,566.7 190.7,567.5 192.1,567.2C193.5,566.9 195.6,565.3 196.9,565.3C198.2,565.4 199.2,567.2 200.2,567.3C201.2,567.5 202.2,566.9 203.1,566.4C204,565.8 204.6,564.8 205.5,564C206.4,563.3 207.9,562 208.8,561.9C209.7,561.7 209.9,563.3 210.7,563C211.5,562.8 212.6,560.9 213.6,560.6C214.6,560.2 215.7,561.3 216.4,561C217.1,560.7 217.3,559.9 217.8,558.6C218.3,557.4 218.9,555.1 219.3,553.5C219.8,551.9 220.2,550 220.5,549C220.8,547.9 221.1,547.4 221.3,547C221.6,546.5 221.8,546.1 222,546.1C222.2,546.1 222.5,546.5 222.7,547C222.9,547.4 223.2,548.5 223.3,549C223.4,549.4 223.3,548.4 223.5,549.7C223.8,551 224.6,555.6 225.1,557C225.6,558.3 226,558.7 226.4,558C226.8,557.2 227.3,554.8 227.7,552.5C228.1,550.2 228.6,546.7 228.9,544.3C229.2,541.8 229.3,539.1 229.5,537.6C229.7,536.1 229.8,535.6 230,535.2C230.2,534.7 230.3,534.6 230.4,534.6C230.5,534.6 230.7,534.7 230.8,535.2C231,535.7 231.1,536.1 231.3,537.6C231.5,539.1 231.7,541.8 231.8,544.3C231.9,546.8 231.8,550.3 232.1,552.5C232.4,554.7 233.2,556.7 233.7,557.6C234.2,558.5 234.5,557.5 235,557.8C235.5,558 236.3,559 236.9,559.1C237.5,559.1 238.2,558 238.8,558.1C239.4,558.3 239.9,559 240.4,559.8C240.9,560.5 241.2,561.8 241.7,562.7C242.2,563.5 243,564.3 243.6,564.9C244.2,565.4 244.6,565.8 245.1,566C245.6,566.2 246.1,565.9 246.6,565.9C247.1,565.8 247.6,565.6 248.1,565.7C248.6,565.8 249,566.2 249.6,566.4C250.2,566.7 251,567.1 251.8,567.3C252.7,567.5 253.5,567.6 254.7,567.7C255.9,567.8 257.8,567.7 259.1,567.8C260.5,567.9 261.8,568.1 262.8,568.1C263.8,568.1 264.3,567.9 265,567.8C265.7,567.8 266.5,568.1 267.2,568.1C267.9,568 268.5,567.5 269.1,567.6C269.7,567.6 269.9,568.2 270.6,568.3C271.3,568.4 272.2,568.3 273.1,568.3C274,568.3 275.1,568.4 276,568.4C276.9,568.5 277.4,568.5 278.5,568.5C279.6,568.4 281.4,568 282.6,568C283.8,568 284.4,568.6 285.6,568.6C286.8,568.7 288.4,568.2 290,568.2C291.6,568.2 293.5,568.7 295.1,568.7C296.7,568.7 298,568.2 299.6,568.2C301.2,568.2 303.1,568.9 304.7,568.9C306.3,568.9 307.5,568.2 309.1,568.2C310.7,568.2 312.7,569 314.3,569C315.9,569 317.1,568.2 318.7,568.2C320.3,568.2 322.2,569.1 323.8,569.1C325.4,569.1 326.6,568.2 328.2,568.2C329.8,568.2 331.8,569 333.5,569C335.2,568.9 336.8,568.1 338.5,568.1C340.2,568.1 341.8,569 343.6,569C345.4,569 347.4,568.1 349.1,568.1C350.9,568.1 352.4,568.9 354.1,568.9C355.9,568.9 357.8,568.1 359.6,568.1C361.5,568.1 363.4,568.8 365.2,568.8C367,568.8 368.9,568.2 370.7,568.2C372.5,568.2 374.6,568.6 376.2,568.6C377.8,568.7 378.6,568.4 380.3,568.4C382,568.4 384.3,568.5 386.3,568.5C388.3,568.5 390.3,568.5 392.3,568.6C394.3,568.6 396.3,568.7 398.3,568.7C400.3,568.7 402.4,568.7 404.4,568.8C406.4,568.8 408.6,568.8 410.4,568.8C412.2,568.8 413.7,568.9 415.4,568.9C417.1,568.9 418.8,568.9 420.5,568.9C422.2,569 424.7,569 425.5,569" fill="none" stroke="#2C5C92" stroke-width="1.35" stroke-linejoin="round"/>
<path d="M89,548.4C89.9,548.4 92.9,548.4 94.6,548.4C96.3,548.4 98,548.4 99.2,548.4C100.4,548.3 100.8,548.1 101.6,548.1C102.4,548.1 103.1,548.2 103.9,548.2C104.7,548.2 105.8,548 106.5,547.9C107.2,547.9 107.3,547.9 107.8,547.9C108.3,547.9 109,547.7 109.5,547.7C110,547.7 110.2,547.9 110.8,547.8C111.4,547.8 112.4,547.7 113.1,547.7C113.8,547.7 114.5,548.1 115.1,547.9C115.6,547.8 116,547.3 116.4,546.9C116.8,546.5 117,546 117.3,545.7C117.6,545.4 117.8,545.2 118.1,545.2C118.3,545.2 118.6,545.5 118.8,545.7C119,545.9 118.9,546 119.1,546.3C119.2,546.6 119.4,547.5 119.7,547.6C120,547.6 120.7,546.8 121.1,546.6C121.5,546.4 121.8,546.2 122.1,546.2C122.4,546.3 122.7,546.7 123.1,547C123.5,547.2 123.9,547.7 124.4,547.8C124.9,547.8 125.5,547.3 126,547.2C126.5,547 127.2,546.9 127.7,546.8C128.2,546.7 128.5,546.8 129,546.7C129.5,546.5 130.2,545.9 130.7,545.9C131.2,545.9 131.6,546.3 132,546.5C132.4,546.8 132.9,547.3 133.3,547.3C133.7,547.4 134.2,547 134.6,546.8C135,546.6 135.6,546.2 136,546.2C136.4,546.2 136.6,546.5 136.9,546.7C137.2,547 137.5,547.5 137.9,547.7C138.3,547.9 138.9,547.8 139.3,547.8C139.8,547.8 140.2,547.6 140.6,547.6C141,547.6 141.5,547.9 141.9,548C142.3,548 142.6,548.2 143.2,548.2C143.8,548.2 144.7,548 145.5,548C146.3,547.9 146.8,548.1 147.9,548.1C149,548.1 151,547.8 152,547.8C153,547.7 153.3,547.9 153.9,547.9C154.5,547.9 155,547.5 155.8,547.5C156.6,547.5 157.8,547.9 158.7,548C159.6,548 160.3,547.8 161.5,547.8C162.7,547.8 164.4,548.1 165.8,548.2C167.2,548.2 168.9,548 170.1,547.9C171.3,547.9 171.9,547.9 173,547.9C174.1,548 175.7,548.3 176.8,548.1C177.9,548 178.8,547.5 179.7,547.2C180.6,546.9 181.2,546.3 182.1,546.4C183,546.4 183.8,547.9 184.9,547.7C186,547.5 187.5,545.4 188.7,545C189.9,544.6 190.7,545.9 192.1,545.5C193.5,545.1 195.6,542.5 196.9,542.5C198.2,542.6 199.2,545.4 200.2,545.7C201.2,545.9 202.2,545 203.1,544.1C204,543.3 204.6,541.6 205.5,540.5C206.4,539.3 207.9,537.3 208.8,537C209.7,536.8 209.9,539.2 210.7,538.9C211.5,538.5 212.6,535.6 213.6,535C214.6,534.3 215.7,536.3 216.4,535C217.1,533.7 217.3,531 217.8,527.2C218.3,523.3 218.9,516.3 219.3,511.9C219.8,507.6 220.2,503.8 220.5,501.2C220.8,498.6 221.1,497.7 221.3,496.5C221.6,495.4 221.8,494.4 222,494.4C222.2,494.4 222.5,495.4 222.7,496.5C222.9,497.7 223.2,500.1 223.3,501.2C223.4,502.3 223.3,499.8 223.5,503C223.8,506.1 224.6,516.8 225.1,520C225.6,523.3 226,524.2 226.4,522.6C226.8,520.9 227.3,515.3 227.7,510C228.1,504.7 228.6,496.7 228.9,491C229.2,485.3 229.3,479.1 229.5,475.6C229.7,472.1 229.8,471 230,469.9C230.2,468.7 230.3,468.7 230.4,468.7C230.5,468.7 230.7,468.7 230.8,469.9C231,471 231.1,472.1 231.3,475.6C231.5,479.1 231.7,485.3 231.8,491C231.9,496.7 231.8,504.9 232.1,510C232.4,515.1 233.2,519.8 233.7,521.8C234.2,523.8 234.5,521.7 235,522.2C235.5,522.8 236.3,525 236.9,525.2C237.5,525.3 238.2,522.8 238.8,523.1C239.4,523.3 239.9,525.1 240.4,526.9C240.9,528.6 241.2,531.6 241.7,533.6C242.2,535.6 243,537.4 243.6,538.6C244.2,539.9 244.6,540.8 245.1,541.2C245.6,541.6 246.1,541 246.6,540.9C247.1,540.8 247.6,540.3 248.1,540.5C248.6,540.7 249,541.6 249.6,542.2C250.2,542.8 251,543.7 251.8,544.2C252.7,544.7 253.5,544.9 254.7,545.1C255.9,545.3 257.8,545.2 259.1,545.3C260.5,545.5 261.8,546 262.8,546C263.8,546 264.3,545.4 265,545.4C265.7,545.3 266.5,546 267.2,545.9C267.9,545.8 268.5,544.6 269.1,544.7C269.7,544.8 269.9,546.1 270.6,546.4C271.3,546.7 272.2,546.3 273.1,546.4C274,546.4 275.1,546.6 276,546.6C276.9,546.7 277.4,546.9 278.5,546.7C279.6,546.6 281.4,545.5 282.6,545.6C283.8,545.6 284.4,547 285.6,547.1C286.8,547.1 288.4,546.1 290,546.1C291.6,546.1 293.5,547.2 295.1,547.2C296.7,547.2 298,545.9 299.6,546C301.2,546.1 303.1,547.6 304.7,547.6C306.3,547.6 307.5,546 309.1,546C310.7,546 312.7,547.8 314.3,547.7C315.9,547.7 317.1,545.8 318.7,545.8C320.3,545.9 322.2,547.9 323.8,547.9C325.4,547.9 326.6,545.9 328.2,545.8C329.8,545.8 331.8,547.6 333.5,547.5C335.2,547.5 336.8,545.6 338.5,545.6C340.2,545.6 341.8,547.6 343.6,547.5C345.4,547.5 347.4,545.5 349.1,545.4C350.9,545.4 352.4,547.3 354.1,547.3C355.9,547.3 357.8,545.5 359.6,545.4C361.5,545.4 363.4,547 365.2,547C367,547 368.9,545.6 370.7,545.6C372.5,545.5 374.6,546.5 376.2,546.6C377.8,546.6 378.6,546 380.3,545.9C382,545.9 384.3,546.1 386.3,546.2C388.3,546.2 390.3,546.2 392.3,546.3C394.3,546.3 396.3,546.5 398.3,546.5C400.3,546.6 402.4,546.6 404.4,546.7C406.4,546.7 408.6,546.7 410.4,546.8C412.2,546.8 413.7,546.8 415.4,546.9C417.1,546.9 418.8,547 420.5,547C422.2,547 424.7,547.1 425.5,547.1" fill="none" stroke="#1F8585" stroke-width="1.35" stroke-linejoin="round"/>
<path d="M89,527.7C89.9,527.8 92.9,527.8 94.6,527.8C96.3,527.7 98,527.8 99.2,527.7C100.4,527.6 100.8,527.3 101.6,527.2C102.4,527.2 103.1,527.5 103.9,527.4C104.7,527.3 105.8,527 106.5,526.9C107.2,526.8 107.3,526.9 107.8,526.9C108.3,526.8 109,526.6 109.5,526.6C110,526.6 110.2,526.8 110.8,526.8C111.4,526.8 112.4,526.5 113.1,526.5C113.8,526.5 114.5,527.2 115.1,526.9C115.6,526.7 116,525.8 116.4,525.2C116.8,524.6 117,523.7 117.3,523.3C117.6,522.8 117.8,522.5 118.1,522.5C118.3,522.5 118.6,523 118.8,523.3C119,523.5 118.9,523.7 119.1,524.2C119.2,524.7 119.4,526.3 119.7,526.3C120,526.4 120.7,525.1 121.1,524.7C121.5,524.3 121.8,524 122.1,524.1C122.4,524.2 122.7,524.9 123.1,525.4C123.5,525.8 123.9,526.6 124.4,526.7C124.9,526.7 125.5,525.9 126,525.7C126.5,525.4 127.2,525.2 127.7,525.1C128.2,525 128.5,525.1 129,524.8C129.5,524.6 130.2,523.6 130.7,523.6C131.2,523.6 131.6,524.3 132,524.7C132.4,525.1 132.9,525.9 133.3,526C133.7,526.1 134.2,525.5 134.6,525.2C135,524.8 135.6,524.1 136,524.1C136.4,524 136.6,524.5 136.9,525C137.2,525.4 137.5,526.3 137.9,526.6C138.3,526.9 138.9,526.8 139.3,526.8C139.8,526.8 140.2,526.4 140.6,526.5C141,526.5 141.5,526.9 141.9,527C142.3,527.2 142.6,527.3 143.2,527.3C143.8,527.3 144.7,527 145.5,527C146.3,527 146.8,527.3 147.9,527.3C149,527.2 151,526.7 152,526.7C153,526.6 153.3,527 153.9,526.9C154.5,526.9 155,526.3 155.8,526.3C156.6,526.3 157.8,527 158.7,527C159.6,527.1 160.3,526.7 161.5,526.8C162.7,526.8 164.4,527.3 165.8,527.4C167.2,527.4 168.9,527.1 170.1,527C171.3,526.9 171.9,526.9 173,527C174.1,527.1 175.7,527.5 176.8,527.4C177.9,527.2 178.8,526.4 179.7,526C180.6,525.6 181.2,524.7 182.1,524.9C183,525 183.8,527 184.9,526.8C186,526.5 187.5,523.7 188.7,523.2C189.9,522.7 190.7,524.4 192.1,523.9C193.5,523.4 195.6,520.1 196.9,520.2C198.2,520.2 199.2,523.8 200.2,524.2C201.2,524.5 202.2,523.3 203.1,522.2C204,521.1 204.6,519 205.5,517.5C206.4,516 207.9,513.5 208.8,513.2C209.7,512.9 209.9,516 210.7,515.5C211.5,515.1 212.6,511.4 213.6,510.5C214.6,509.7 215.7,512.3 216.4,510.3C217.1,508.4 217.3,504.4 217.8,498.7C218.3,493.1 218.9,482.7 219.3,476.5C219.8,470.3 220.2,465.1 220.5,461.5C220.8,457.8 221.1,456.4 221.3,454.9C221.6,453.3 221.8,451.9 222,451.9C222.2,451.9 222.5,453.3 222.7,454.9C222.9,456.5 223.2,459.9 223.3,461.5C223.4,463 223.3,459.5 223.5,463.9C223.8,468.3 224.6,483.3 225.1,487.9C225.6,492.4 226,493.7 226.4,491.4C226.8,489 227.3,481 227.7,473.6C228.1,466.2 228.6,454.9 228.9,446.8C229.2,438.7 229.3,430.1 229.5,425.1C229.7,420.2 229.8,418.7 230,417.1C230.2,415.4 230.3,415.4 230.4,415.4C230.5,415.4 230.7,415.4 230.8,417.1C231,418.7 231.1,420.2 231.3,425.1C231.5,430.1 231.7,438.7 231.8,446.8C231.9,454.9 231.8,466.4 232.1,473.6C232.4,480.8 233.2,487.4 233.7,490.2C234.2,493.1 234.5,490 235,490.8C235.5,491.6 236.3,494.8 236.9,495C237.5,495.2 238.2,491.6 238.8,492C239.4,492.4 239.9,494.9 240.4,497.4C240.9,499.8 241.2,504.1 241.7,506.8C242.2,509.6 243,512.2 243.6,514C244.2,515.8 244.6,517 245.1,517.6C245.6,518.1 246.1,517.3 246.6,517.1C247.1,517 247.6,516.3 248.1,516.6C248.6,516.9 249,518.1 249.6,518.9C250.2,519.8 251,521.1 251.8,521.7C252.7,522.4 253.5,522.8 254.7,523C255.9,523.2 257.8,522.9 259.1,523.1C260.5,523.3 261.8,524.1 262.8,524.1C263.8,524.1 264.3,523.1 265,523.1C265.7,523 266.5,524.1 267.2,523.9C267.9,523.7 268.5,521.9 269.1,522C269.7,522.1 269.9,524.2 270.6,524.6C271.3,525.1 272.2,524.6 273.1,524.6C274,524.7 275.1,525 276,525.1C276.9,525.2 277.4,525.5 278.5,525.2C279.6,525 281.4,523.3 282.6,523.4C283.8,523.5 284.4,525.6 285.6,525.7C286.8,525.9 288.4,524.2 290,524.2C291.6,524.3 293.5,526 295.1,526C296.7,526 298,524 299.6,524.1C301.2,524.2 303.1,526.7 304.7,526.7C306.3,526.7 307.5,524 309.1,524.1C310.7,524.1 312.7,526.8 314.3,526.8C315.9,526.8 317.1,523.8 318.7,523.8C320.3,523.9 322.2,527.1 323.8,527.1C325.4,527.1 326.6,523.9 328.2,523.8C329.8,523.7 331.8,526.6 333.5,526.5C335.2,526.5 336.8,523.5 338.5,523.5C340.2,523.5 341.8,526.6 343.6,526.5C345.4,526.5 347.4,523.3 349.1,523.2C350.9,523.2 352.4,526.2 354.1,526.2C355.9,526.2 357.8,523.3 359.6,523.2C361.5,523.1 363.4,525.6 365.2,525.7C367,525.7 368.9,523.6 370.7,523.5C372.5,523.4 374.6,524.9 376.2,525C377.8,525.1 378.6,524.1 380.3,524C382,523.9 384.3,524.4 386.3,524.4C388.3,524.5 390.3,524.5 392.3,524.6C394.3,524.6 396.3,524.9 398.3,525C400.3,525.1 402.4,525.1 404.4,525.2C406.4,525.3 408.6,525.3 410.4,525.4C412.2,525.4 413.7,525.5 415.4,525.5C417.1,525.6 418.8,525.7 420.5,525.7C422.2,525.8 424.7,525.9 425.5,525.9" fill="none" stroke="#1E9E62" stroke-width="1.35" stroke-linejoin="round"/>
<path d="M89,508C89.9,508 92.9,508 94.6,508C96.3,508 98,508 99.2,507.8C100.4,507.7 100.8,507.3 101.6,507.2C102.4,507.1 103.1,507.5 103.9,507.5C104.7,507.4 105.8,506.9 106.5,506.8C107.2,506.6 107.3,506.8 107.8,506.7C108.3,506.7 109,506.3 109.5,506.3C110,506.3 110.2,506.6 110.8,506.6C111.4,506.6 112.4,506.2 113.1,506.2C113.8,506.3 114.5,507.1 115.1,506.8C115.6,506.5 116,505.2 116.4,504.4C116.8,503.5 117,502.3 117.3,501.7C117.6,501 117.8,500.6 118.1,500.6C118.3,500.6 118.6,501.2 118.8,501.6C119,502 118.9,502.3 119.1,503C119.2,503.7 119.4,505.9 119.7,506C120,506.1 120.7,504.2 121.1,503.7C121.5,503.1 121.8,502.7 122.1,502.9C122.4,503 122.7,504 123.1,504.6C123.5,505.2 123.9,506.3 124.4,506.4C124.9,506.5 125.5,505.4 126,505C126.5,504.7 127.2,504.4 127.7,504.2C128.2,504 128.5,504.2 129,503.9C129.5,503.5 130.2,502.2 130.7,502.1C131.2,502.1 131.6,503 132,503.6C132.4,504.2 132.9,505.3 133.3,505.5C133.7,505.6 134.2,504.7 134.6,504.3C135,503.8 135.6,502.8 136,502.8C136.4,502.7 136.6,503.4 136.9,504C137.2,504.6 137.5,505.9 137.9,506.3C138.3,506.8 138.9,506.6 139.3,506.6C139.8,506.5 140.2,506.1 140.6,506.1C141,506.2 141.5,506.7 141.9,506.9C142.3,507.1 142.6,507.4 143.2,507.4C143.8,507.4 144.7,506.9 145.5,506.9C146.3,506.9 146.8,507.3 147.9,507.2C149,507.2 151,506.5 152,506.4C153,506.4 153.3,506.9 153.9,506.8C154.5,506.7 155,505.9 155.8,505.9C156.6,506 157.8,506.8 158.7,506.9C159.6,507 160.3,506.5 161.5,506.6C162.7,506.6 164.4,507.3 165.8,507.4C167.2,507.4 168.9,507 170.1,506.9C171.3,506.8 171.9,506.8 173,506.8C174.1,506.9 175.7,507.5 176.8,507.3C177.9,507.1 178.8,506.1 179.7,505.6C180.6,505 181.2,503.9 182.1,504.1C183,504.3 183.8,506.9 184.9,506.6C186,506.2 187.5,502.8 188.7,502.2C189.9,501.6 190.7,503.6 192.1,503C193.5,502.4 195.6,498.5 196.9,498.6C198.2,498.6 199.2,503 200.2,503.4C201.2,503.8 202.2,502.4 203.1,501C204,499.7 204.6,497.2 205.5,495.3C206.4,493.5 207.9,490.5 208.8,490.1C209.7,489.7 209.9,493.4 210.7,492.9C211.5,492.3 212.6,487.9 213.6,486.8C214.6,485.8 215.7,489 216.4,486.5C217.1,484 217.3,479 217.8,471.9C218.3,464.9 218.9,451.8 219.3,444.1C219.8,436.3 220.2,429.9 220.5,425.4C220.8,420.9 221.1,419.2 221.3,417.2C221.6,415.2 221.8,413.5 222,413.5C222.2,413.5 222.5,415.2 222.7,417.2C222.9,419.2 223.2,423.5 223.3,425.4C223.4,427.2 223.3,422.9 223.5,428.4C223.8,433.9 224.6,452.6 225.1,458.2C225.6,463.7 226,465.2 226.4,461.8C226.8,458.4 227.3,447.6 227.7,437.9C228.1,428.2 228.6,413.8 228.9,403.3C229.2,392.9 229.3,381.7 229.5,375.3C229.7,368.9 229.8,367 230,364.9C230.2,362.9 230.3,362.8 230.4,362.8C230.5,362.8 230.7,362.9 230.8,364.9C231,367 231.1,368.9 231.3,375.3C231.5,381.7 231.7,392.9 231.8,403.3C231.9,413.8 231.8,428.6 232.1,437.9C232.4,447.2 233.2,455.6 233.7,459.3C234.2,463 234.5,459.1 235,460.1C235.5,461.2 236.3,465.2 236.9,465.5C237.5,465.7 238.2,461.1 238.8,461.7C239.4,462.2 239.9,465.3 240.4,468.5C240.9,471.7 241.2,477.2 241.7,480.8C242.2,484.3 243,487.7 243.6,490C244.2,492.3 244.6,493.9 245.1,494.6C245.6,495.3 246.1,494.2 246.6,494C247.1,493.8 247.6,493 248.1,493.4C248.6,493.8 249,495.3 249.6,496.4C250.2,497.4 251,499 251.8,499.9C252.7,500.7 253.5,501.1 254.7,501.4C255.9,501.6 257.8,501.2 259.1,501.4C260.5,501.6 261.8,502.6 262.8,502.6C263.8,502.5 264.3,501.1 265,501C265.7,501 266.5,502.5 267.2,502.2C267.9,502 268.5,499.3 269.1,499.5C269.7,499.7 269.9,502.7 270.6,503.4C271.3,504 272.2,503.2 273.1,503.4C274,503.5 275.1,503.8 276,504C276.9,504.1 277.4,504.6 278.5,504.2C279.6,503.8 281.4,501.5 282.6,501.6C283.8,501.7 284.4,504.7 285.6,504.9C286.8,505.1 288.4,502.7 290,502.8C291.6,502.8 293.5,505.4 295.1,505.3C296.7,505.3 298,502.4 299.6,502.5C301.2,502.7 303.1,506.3 304.7,506.3C306.3,506.3 307.5,502.5 309.1,502.5C310.7,502.5 312.7,506.5 314.3,506.5C315.9,506.4 317.1,502.1 318.7,502.2C320.3,502.2 322.2,506.9 323.8,506.9C325.4,506.9 326.6,502.3 328.2,502.1C329.8,502 331.8,506.1 333.5,506.1C335.2,506 336.8,501.6 338.5,501.6C340.2,501.6 341.8,506.1 343.6,506C345.4,506 347.4,501.3 349.1,501.2C350.9,501.2 352.4,505.6 354.1,505.6C355.9,505.6 357.8,501.3 359.6,501.2C361.5,501.1 363.4,504.7 365.2,504.8C367,504.9 368.9,501.8 370.7,501.6C372.5,501.4 374.6,503.7 376.2,503.8C377.8,504 378.6,502.5 380.3,502.4C382,502.2 384.3,502.9 386.3,503C388.3,503.1 390.3,503 392.3,503.2C394.3,503.3 396.3,503.6 398.3,503.8C400.3,503.9 402.4,504 404.4,504.1C406.4,504.2 408.6,504.2 410.4,504.3C412.2,504.4 413.7,504.5 415.4,504.6C417.1,504.6 418.8,504.8 420.5,504.9C422.2,505 424.7,505.1 425.5,505.1" fill="none" stroke="#2EA03A" stroke-width="1.35" stroke-linejoin="round"/>
<path d="M89,487.2C89.9,487.2 92.9,487.3 94.6,487.2C96.3,487.2 98,487.3 99.2,487.1C100.4,486.9 100.8,486.2 101.6,486.1C102.4,486 103.1,486.6 103.9,486.5C104.7,486.4 105.8,485.6 106.5,485.4C107.2,485.2 107.3,485.5 107.8,485.4C108.3,485.3 109,484.8 109.5,484.7C110,484.7 110.2,485.2 110.8,485.2C111.4,485.2 112.4,484.6 113.1,484.6C113.8,484.7 114.5,486 115.1,485.5C115.6,485.1 116,483.1 116.4,481.7C116.8,480.4 117,478.4 117.3,477.4C117.6,476.4 117.8,475.7 118.1,475.7C118.3,475.7 118.6,476.8 118.8,477.4C119,478.1 118.9,478.4 119.1,479.5C119.2,480.7 119.4,484.1 119.7,484.3C120,484.4 120.7,481.4 121.1,480.6C121.5,479.8 121.8,479.1 122.1,479.4C122.4,479.6 122.7,481.2 123.1,482.1C123.5,483 123.9,484.8 124.4,485C124.9,485.1 125.5,483.4 126,482.8C126.5,482.2 127.2,481.8 127.7,481.5C128.2,481.2 128.5,481.5 129,481C129.5,480.4 130.2,478.3 130.7,478.2C131.2,478.2 131.6,479.7 132,480.6C132.4,481.5 132.9,483.3 133.3,483.5C133.7,483.7 134.2,482.4 134.6,481.7C135,481 135.6,479.4 136,479.3C136.4,479.3 136.6,480.4 136.9,481.3C137.2,482.2 137.5,484.3 137.9,484.9C138.3,485.6 138.9,485.4 139.3,485.3C139.8,485.2 140.2,484.5 140.6,484.6C141,484.7 141.5,485.5 141.9,485.8C142.3,486.2 142.6,486.6 143.2,486.6C143.8,486.6 144.7,485.9 145.5,485.8C146.3,485.8 146.8,486.5 147.9,486.4C149,486.3 151,485.3 152,485.2C153,485 153.3,485.8 153.9,485.7C154.5,485.6 155,484.3 155.8,484.4C156.6,484.4 157.8,485.8 158.7,486C159.6,486.1 160.3,485.3 161.5,485.4C162.7,485.5 164.4,486.6 165.8,486.7C167.2,486.8 168.9,486.1 170.1,485.9C171.3,485.8 171.9,485.8 173,485.9C174.1,486.1 175.7,487 176.8,486.7C177.9,486.4 178.8,485 179.7,484.3C180.6,483.6 181.2,482.2 182.1,482.4C183,482.7 183.8,486 184.9,485.7C186,485.4 187.5,481.2 188.7,480.5C189.9,479.9 190.7,482.4 192.1,481.7C193.5,481.1 195.6,476.8 196.9,476.9C198.2,477 199.2,481.8 200.2,482.3C201.2,482.8 202.2,481.2 203.1,479.6C204,478.1 204.6,475.3 205.5,473.3C206.4,471.2 207.9,467.9 208.8,467.4C209.7,466.9 209.9,471.1 210.7,470.5C211.5,469.9 212.6,465 213.6,463.8C214.6,462.6 215.7,466.2 216.4,463.4C217.1,460.5 217.3,454.8 217.8,446.7C218.3,438.7 218.9,423.8 219.3,415C219.8,406.1 220.2,398.9 220.5,393.8C220.8,388.7 221.1,386.7 221.3,384.5C221.6,382.2 221.8,380.3 222,380.3C222.2,380.3 222.5,382.2 222.7,384.5C222.9,386.7 223.2,391.6 223.3,393.8C223.4,395.9 223.3,391 223.5,397.2C223.8,403.4 224.6,424.8 225.1,431C225.6,437.2 226,438.7 226.4,434.5C226.8,430.4 227.3,417.5 227.7,406C228.1,394.6 228.6,378 228.9,365.9C229.2,353.8 229.3,340.8 229.5,333.3C229.7,325.9 229.8,323.7 230,321.2C230.2,318.8 230.3,318.7 230.4,318.7C230.5,318.7 230.7,318.8 230.8,321.2C231,323.7 231.1,325.9 231.3,333.3C231.5,340.8 231.7,353.8 231.8,365.9C231.9,378 231.8,395.2 232.1,406C232.4,416.9 233.2,426.7 233.7,431C234.2,435.3 234.5,430.7 235,431.9C235.5,433.1 236.3,437.8 236.9,438.1C237.5,438.4 238.2,433.1 238.8,433.7C239.4,434.3 239.9,438 240.4,441.7C240.9,445.4 241.2,451.7 241.7,455.9C242.2,460.1 243,463.9 243.6,466.6C244.2,469.3 244.6,471.2 245.1,472C245.6,472.8 246.1,471.6 246.6,471.3C247.1,471.1 247.6,470.1 248.1,470.6C248.6,471 249,472.8 249.6,474C250.2,475.3 251,477.2 251.8,478.2C252.7,479.1 253.5,479.7 254.7,480C255.9,480.3 257.8,479.8 259.1,480C260.5,480.3 261.8,481.5 262.8,481.4C263.8,481.4 264.3,479.8 265,479.7C265.7,479.7 266.5,481.4 267.2,481.1C267.9,480.8 268.5,477.8 269.1,478C269.7,478.2 269.9,481.6 270.6,482.3C271.3,483.1 272.2,482.2 273.1,482.3C274,482.5 275.1,482.9 276,483.1C276.9,483.2 277.4,483.8 278.5,483.3C279.6,482.9 281.4,480.2 282.6,480.4C283.8,480.5 284.4,483.9 285.6,484.1C286.8,484.4 288.4,481.6 290,481.7C291.6,481.8 293.5,484.6 295.1,484.6C296.7,484.5 298,481.3 299.6,481.4C301.2,481.6 303.1,485.7 304.7,485.7C306.3,485.7 307.5,481.4 309.1,481.4C310.7,481.5 312.7,486 314.3,485.9C315.9,485.9 317.1,481 318.7,481.1C320.3,481.2 322.2,486.4 323.8,486.4C325.4,486.4 326.6,481.2 328.2,481.1C329.8,480.9 331.8,485.6 333.5,485.5C335.2,485.4 336.8,480.5 338.5,480.5C340.2,480.5 341.8,485.6 343.6,485.5C345.4,485.4 347.4,480.2 349.1,480.1C350.9,480 352.4,485 354.1,485C355.9,485 357.8,480.2 359.6,480.1C361.5,479.9 363.4,484.1 365.2,484.1C367,484.2 368.9,480.7 370.7,480.5C372.5,480.4 374.6,482.9 376.2,483.1C377.8,483.2 378.6,481.6 380.3,481.4C382,481.3 384.3,482 386.3,482.2C388.3,482.3 390.3,482.2 392.3,482.3C394.3,482.5 396.3,482.9 398.3,483.1C400.3,483.2 402.4,483.3 404.4,483.4C406.4,483.5 408.6,483.6 410.4,483.7C412.2,483.8 413.7,483.9 415.4,484C417.1,484.1 418.8,484.2 420.5,484.3C422.2,484.4 424.7,484.6 425.5,484.6" fill="none" stroke="#9A6A1E" stroke-width="1.35" stroke-linejoin="round"/>
<path d="M89,466.2C89.9,466.2 92.9,466.3 94.6,466.2C96.3,466.2 98,466.3 99.2,466C100.4,465.7 100.8,464.7 101.6,464.6C102.4,464.5 103.1,465.4 103.9,465.2C104.7,465.1 105.8,463.9 106.5,463.7C107.2,463.4 107.3,463.8 107.8,463.7C108.3,463.5 109,462.8 109.5,462.7C110,462.7 110.2,463.5 110.8,463.4C111.4,463.4 112.4,462.5 113.1,462.6C113.8,462.7 114.5,464.6 115.1,463.9C115.6,463.2 116,460.4 116.4,458.5C116.8,456.6 117,453.9 117.3,452.5C117.6,451 117.8,450 118.1,450C118.3,450 118.6,451.6 118.8,452.5C119,453.4 118.9,453.8 119.1,455.4C119.2,457 119.4,461.9 119.7,462.1C120,462.4 120.7,458.1 121.1,457C121.5,455.8 121.8,454.8 122.1,455.2C122.4,455.5 122.7,457.8 123.1,459.1C123.5,460.4 123.9,463 124.4,463.1C124.9,463.3 125.5,460.9 126,460.1C126.5,459.3 127.2,458.7 127.7,458.3C128.2,457.9 128.5,458.3 129,457.5C129.5,456.8 130.2,453.7 130.7,453.6C131.2,453.5 131.6,455.7 132,457C132.4,458.2 132.9,460.9 133.3,461.1C133.7,461.4 134.2,459.5 134.6,458.6C135,457.6 135.6,455.3 136,455.2C136.4,455.1 136.6,456.7 136.9,458C137.2,459.3 137.5,462.2 137.9,463.2C138.3,464.1 138.9,463.8 139.3,463.7C139.8,463.6 140.2,462.6 140.6,462.7C141,462.8 141.5,464 141.9,464.5C142.3,465 142.6,465.5 143.2,465.5C143.8,465.5 144.7,464.5 145.5,464.5C146.3,464.4 146.8,465.4 147.9,465.3C149,465.1 151,463.7 152,463.6C153,463.4 153.3,464.5 153.9,464.3C154.5,464.2 155,462.4 155.8,462.5C156.6,462.5 157.8,464.5 158.7,464.7C159.6,465 160.3,463.8 161.5,464C162.7,464.1 164.4,465.7 165.8,465.8C167.2,466 168.9,464.9 170.1,464.7C171.3,464.6 171.9,464.6 173,464.7C174.1,464.9 175.7,466.2 176.8,465.8C177.9,465.5 178.8,463.6 179.7,462.7C180.6,461.8 181.2,460.3 182.1,460.6C183,460.9 183.8,464.9 184.9,464.7C186,464.4 187.5,459.6 188.7,459C189.9,458.3 190.7,461.1 192.1,460.5C193.5,460 195.6,455.6 196.9,455.7C198.2,455.8 199.2,460.8 200.2,461.3C201.2,461.8 202.2,460.1 203.1,458.5C204,457 204.6,454.1 205.5,452C206.4,449.9 207.9,446.4 208.8,445.9C209.7,445.4 209.9,449.8 210.7,449.2C211.5,448.5 212.6,443.4 213.6,442.2C214.6,441 215.7,444.7 216.4,441.8C217.1,438.8 217.3,432.7 217.8,424.3C218.3,415.8 218.9,400.3 219.3,391C219.8,381.8 220.2,374.2 220.5,368.9C220.8,363.6 221.1,361.6 221.3,359.2C221.6,356.9 221.8,354.9 222,354.9C222.2,354.9 222.5,356.9 222.7,359.2C222.9,361.6 223.2,366.7 223.3,368.9C223.4,371.2 223.3,366.1 223.5,372.5C223.8,379 224.6,401.3 225.1,407.7C225.6,414.2 226,415.8 226.4,411.4C226.8,407.1 227.3,393.7 227.7,381.8C228.1,369.8 228.6,352.5 228.9,339.9C229.2,327.2 229.3,313.7 229.5,305.9C229.7,298.1 229.8,295.8 230,293.3C230.2,290.8 230.3,290.7 230.4,290.7C230.5,290.7 230.7,290.8 230.8,293.3C231,295.8 231.1,298.1 231.3,305.9C231.5,313.7 231.7,327.2 231.8,339.9C231.9,352.5 231.8,370.4 232.1,381.8C232.4,393.1 233.2,403.3 233.7,407.8C234.2,412.3 234.5,407.5 235,408.7C235.5,410 236.3,414.9 236.9,415.2C237.5,415.5 238.2,410 238.8,410.6C239.4,411.2 239.9,415.1 240.4,418.9C240.9,422.8 241.2,429.4 241.7,433.8C242.2,438.1 243,442.1 243.6,444.9C244.2,447.7 244.6,449.7 245.1,450.6C245.6,451.4 246.1,450.1 246.6,449.9C247.1,449.7 247.6,448.7 248.1,449.1C248.6,449.6 249,451.4 249.6,452.7C250.2,454 251,455.9 251.8,457C252.7,458 253.5,458.5 254.7,458.8C255.9,459.1 257.8,458.5 259.1,458.7C260.5,459 261.8,460.3 262.8,460.2C263.8,460.1 264.3,458.3 265,458.3C265.7,458.2 266.5,460.1 267.2,459.8C267.9,459.5 268.5,456.1 269.1,456.4C269.7,456.6 269.9,460.4 270.6,461.2C271.3,462 272.2,461.1 273.1,461.2C274,461.3 275.1,461.8 276,462C276.9,462.2 277.4,462.8 278.5,462.3C279.6,461.8 281.4,458.9 282.6,459C283.8,459.2 284.4,463 285.6,463.2C286.8,463.5 288.4,460.5 290,460.5C291.6,460.6 293.5,463.8 295.1,463.8C296.7,463.7 298,460.1 299.6,460.3C301.2,460.5 303.1,465 304.7,465C306.3,465 307.5,460.2 309.1,460.3C310.7,460.3 312.7,465.4 314.3,465.3C315.9,465.2 317.1,459.8 318.7,459.9C320.3,460 322.2,465.8 323.8,465.8C325.4,465.8 326.6,460.1 328.2,459.9C329.8,459.8 331.8,464.9 333.5,464.9C335.2,464.8 336.8,459.4 338.5,459.4C340.2,459.4 341.8,465 343.6,464.9C345.4,464.8 347.4,459 349.1,458.9C350.9,458.8 352.4,464.4 354.1,464.4C355.9,464.4 357.8,459.1 359.6,458.9C361.5,458.8 363.4,463.4 365.2,463.4C367,463.5 368.9,459.6 370.7,459.5C372.5,459.3 374.6,462.1 376.2,462.3C377.8,462.4 378.6,460.6 380.3,460.5C382,460.3 384.3,461.1 386.3,461.3C388.3,461.5 390.3,461.3 392.3,461.5C394.3,461.7 396.3,462.1 398.3,462.3C400.3,462.5 402.4,462.6 404.4,462.7C406.4,462.9 408.6,463 410.4,463.1C412.2,463.2 413.7,463.3 415.4,463.4C417.1,463.5 418.8,463.7 420.5,463.8C422.2,463.9 424.7,464 425.5,464.1" fill="none" stroke="#D8282A" stroke-width="1.35" stroke-linejoin="round"/>
<path d="M89,447.2C89.9,447.2 92.9,447.3 94.6,447.3C96.3,447.2 98,447.3 99.2,447C100.4,446.6 100.8,445.5 101.6,445.3C102.4,445.2 103.1,446.2 103.9,446C104.7,445.9 105.8,444.5 106.5,444.2C107.2,443.9 107.3,444.4 107.8,444.2C108.3,444 109,443.1 109.5,443.1C110,443 110.2,443.9 110.8,443.9C111.4,443.9 112.4,442.8 113.1,442.9C113.8,443 114.5,445.3 115.1,444.5C115.6,443.7 116,440.4 116.4,438.1C116.8,435.8 117,432.6 117.3,430.9C117.6,429.3 117.8,428.1 118.1,428.1C118.3,428.1 118.6,429.9 118.8,430.9C119,432 118.9,432.5 119.1,434.4C119.2,436.3 119.4,442 119.7,442.3C120,442.6 120.7,437.6 121.1,436.2C121.5,434.9 121.8,433.7 122.1,434.1C122.4,434.5 122.7,437.2 123.1,438.7C123.5,440.3 123.9,443.3 124.4,443.5C124.9,443.7 125.5,440.9 126,439.9C126.5,439 127.2,438.3 127.7,437.8C128.2,437.3 128.5,437.8 129,436.9C129.5,436 130.2,432.4 130.7,432.3C131.2,432.2 131.6,434.8 132,436.2C132.4,437.7 132.9,440.8 133.3,441.1C133.7,441.4 134.2,439.2 134.6,438.1C135,436.9 135.6,434.2 136,434.1C136.4,434 136.6,435.8 136.9,437.4C137.2,439 137.5,442.4 137.9,443.5C138.3,444.6 138.9,444.2 139.3,444.1C139.8,444 140.2,442.8 140.6,442.9C141,443.1 141.5,444.5 141.9,445C142.3,445.6 142.6,446.2 143.2,446.2C143.8,446.2 144.7,445.1 145.5,445C146.3,445 146.8,446.1 147.9,445.9C149,445.7 151,444.1 152,443.9C153,443.7 153.3,445 153.9,444.8C154.5,444.6 155,442.5 155.8,442.6C156.6,442.7 157.8,445 158.7,445.3C159.6,445.6 160.3,444.1 161.5,444.3C162.7,444.5 164.4,446.4 165.8,446.5C167.2,446.7 168.9,445.5 170.1,445.2C171.3,445 171.9,445 173,445.2C174.1,445.4 175.7,446.9 176.8,446.5C177.9,446.1 178.8,443.9 179.7,442.9C180.6,442 181.2,440.3 182.1,440.6C183,441 183.8,445.4 184.9,445.2C186,444.9 187.5,439.8 188.7,439.1C189.9,438.4 190.7,441.4 192.1,440.9C193.5,440.4 195.6,435.9 196.9,436C198.2,436.1 199.2,441.2 200.2,441.7C201.2,442.2 202.2,440.5 203.1,438.9C204,437.3 204.6,434.3 205.5,432.2C206.4,430 207.9,426.5 208.8,426C209.7,425.5 209.9,429.9 210.7,429.3C211.5,428.6 212.6,423.4 213.6,422.2C214.6,420.9 215.7,424.8 216.4,421.7C217.1,418.6 217.3,412.3 217.8,403.6C218.3,394.8 218.9,378.7 219.3,369.2C219.8,359.6 220.2,351.8 220.5,346.4C220.8,340.9 221.1,338.8 221.3,336.4C221.6,333.9 221.8,331.9 222,331.9C222.2,331.9 222.5,333.9 222.7,336.4C222.9,338.8 223.2,344.1 223.3,346.4C223.4,348.6 223.3,343.4 223.5,350.1C223.8,356.7 224.6,379.7 225.1,386.4C225.6,393 226,394.6 226.4,390.2C226.8,385.7 227.3,371.9 227.7,359.6C228.1,347.3 228.6,329.4 228.9,316.4C229.2,303.3 229.3,289.3 229.5,281.3C229.7,273.3 229.8,271 230,268.3C230.2,265.7 230.3,265.6 230.4,265.6C230.5,265.6 230.7,265.7 230.8,268.3C231,271 231.1,273.3 231.3,281.3C231.5,289.3 231.7,303.3 231.8,316.3C231.9,329.4 231.8,347.9 232.1,359.5C232.4,371.2 233.2,381.7 233.7,386.3C234.2,391 234.5,386.1 235,387.3C235.5,388.6 236.3,393.7 236.9,394C237.5,394.4 238.2,388.6 238.8,389.2C239.4,389.9 239.9,393.8 240.4,397.8C240.9,401.8 241.2,408.7 241.7,413.1C242.2,417.6 243,421.7 243.6,424.6C244.2,427.5 244.6,429.6 245.1,430.4C245.6,431.3 246.1,430 246.6,429.7C247.1,429.5 247.6,428.4 248.1,428.9C248.6,429.4 249,431.3 249.6,432.6C250.2,434 251,436 251.8,437C252.7,438.1 253.5,438.6 254.7,438.9C255.9,439.2 257.8,438.6 259.1,438.9C260.5,439.1 261.8,440.5 262.8,440.4C263.8,440.3 264.3,438.6 265,438.5C265.7,438.4 266.5,440.3 267.2,440C267.9,439.7 268.5,436.3 269.1,436.6C269.7,436.8 269.9,440.6 270.6,441.4C271.3,442.2 272.2,441.2 273.1,441.4C274,441.5 275.1,442 276,442.2C276.9,442.3 277.4,443 278.5,442.5C279.6,442 281.4,439 282.6,439.2C283.8,439.3 284.4,443.1 285.6,443.3C286.8,443.6 288.4,440.6 290,440.6C291.6,440.7 293.5,443.9 295.1,443.8C296.7,443.8 298,440.1 299.6,440.3C301.2,440.5 303.1,445 304.7,445C306.3,445 307.5,440.3 309.1,440.3C310.7,440.4 312.7,445.4 314.3,445.3C315.9,445.2 317.1,439.8 318.7,439.9C320.3,440 322.2,445.8 323.8,445.8C325.4,445.8 326.6,440 328.2,439.9C329.8,439.7 331.8,444.9 333.5,444.8C335.2,444.7 336.8,439.3 338.5,439.3C340.2,439.3 341.8,444.8 343.6,444.7C345.4,444.7 347.4,438.8 349.1,438.7C350.9,438.6 352.4,444.2 354.1,444.2C355.9,444.2 357.8,438.9 359.6,438.7C361.5,438.5 363.4,443.1 365.2,443.2C367,443.3 368.9,439.4 370.7,439.2C372.5,439 374.6,441.8 376.2,442C377.8,442.2 378.6,440.4 380.3,440.2C382,440 384.3,440.8 386.3,441C388.3,441.1 390.3,441 392.3,441.2C394.3,441.3 396.3,441.8 398.3,441.9C400.3,442.1 402.4,442.2 404.4,442.3C406.4,442.5 408.6,442.5 410.4,442.6C412.2,442.7 413.7,442.8 415.4,442.9C417.1,443 418.8,443.2 420.5,443.3C422.2,443.4 424.7,443.6 425.5,443.6" fill="none" stroke="#E2551E" stroke-width="1.35" stroke-linejoin="round"/>
<path d="M89,425.6C89.9,425.6 92.9,425.7 94.6,425.7C96.3,425.7 98,425.8 99.2,425.4C100.4,425.1 100.8,423.8 101.6,423.7C102.4,423.5 103.1,424.6 103.9,424.4C104.7,424.3 105.8,422.8 106.5,422.5C107.2,422.2 107.3,422.7 107.8,422.5C108.3,422.3 109,421.4 109.5,421.4C110,421.3 110.2,422.3 110.8,422.2C111.4,422.2 112.4,421.1 113.1,421.2C113.8,421.3 114.5,423.7 115.1,422.8C115.6,422 116,418.5 116.4,416.1C116.8,413.7 117,410.3 117.3,408.6C117.6,406.8 117.8,405.6 118.1,405.6C118.3,405.6 118.6,407.4 118.8,408.6C119,409.7 118.9,410.2 119.1,412.2C119.2,414.3 119.4,420.3 119.7,420.6C120,420.9 120.7,415.6 121.1,414.2C121.5,412.7 121.8,411.5 122.1,412C122.4,412.4 122.7,415.2 123.1,416.8C123.5,418.5 123.9,421.6 124.4,421.9C124.9,422.1 125.5,419.1 126,418.1C126.5,417.1 127.2,416.4 127.7,415.8C128.2,415.3 128.5,415.8 129,414.9C129.5,413.9 130.2,410.1 130.7,410C131.2,409.9 131.6,412.6 132,414.2C132.4,415.8 132.9,419 133.3,419.3C133.7,419.7 134.2,417.4 134.6,416.1C135,414.9 135.6,412.1 136,412C136.4,411.9 136.6,413.8 136.9,415.5C137.2,417.1 137.5,420.7 137.9,421.9C138.3,423.1 138.9,422.6 139.3,422.6C139.8,422.5 140.2,421.1 140.6,421.3C141,421.5 141.5,422.9 141.9,423.5C142.3,424.1 142.6,424.8 143.2,424.8C143.8,424.8 144.7,423.6 145.5,423.5C146.3,423.5 146.8,424.7 147.9,424.5C149,424.3 151,422.6 152,422.4C153,422.2 153.3,423.6 153.9,423.3C154.5,423.1 155,420.9 155.8,421C156.6,421.1 157.8,423.5 158.7,423.8C159.6,424.1 160.3,422.6 161.5,422.9C162.7,423.1 164.4,425 165.8,425.2C167.2,425.4 168.9,424.1 170.1,423.9C171.3,423.6 171.9,423.6 173,423.9C174.1,424.1 175.7,425.6 176.8,425.2C177.9,424.8 178.8,422.5 179.7,421.5C180.6,420.5 181.2,418.8 182.1,419.1C183,419.5 183.8,424.1 184.9,423.9C186,423.6 187.5,418.4 188.7,417.7C189.9,417 190.7,420.1 192.1,419.6C193.5,419.1 195.6,414.6 196.9,414.8C198.2,414.9 199.2,420 200.2,420.5C201.2,421 202.2,419.3 203.1,417.7C204,416.1 204.6,413.1 205.5,411C206.4,408.8 207.9,405.3 208.8,404.8C209.7,404.3 209.9,408.7 210.7,408.1C211.5,407.4 212.6,402.2 213.6,401C214.6,399.7 215.7,403.6 216.4,400.5C217.1,397.5 217.3,391.3 217.8,382.7C218.3,374.1 218.9,358.2 219.3,348.8C219.8,339.3 220.2,331.6 220.5,326.2C220.8,320.8 221.1,318.7 221.3,316.3C221.6,313.9 221.8,311.8 222,311.8C222.2,311.8 222.5,313.9 222.7,316.3C222.9,318.7 223.2,323.9 223.3,326.2C223.4,328.5 223.3,323.3 223.5,329.9C223.8,336.5 224.6,359.2 225.1,365.8C225.6,372.4 226,374 226.4,369.6C226.8,365.1 227.3,351.4 227.7,339.3C228.1,327.1 228.6,309.4 228.9,296.5C229.2,283.6 229.3,269.8 229.5,261.9C229.7,253.9 229.8,251.6 230,249C230.2,246.4 230.3,246.3 230.4,246.3C230.5,246.3 230.7,246.4 230.8,249C231,251.6 231.1,253.9 231.3,261.9C231.5,269.8 231.7,283.6 231.8,296.5C231.9,309.4 231.8,327.7 232.1,339.3C232.4,350.8 233.2,361.2 233.7,365.8C234.2,370.4 234.5,365.5 235,366.8C235.5,368.1 236.3,373.1 236.9,373.4C237.5,373.7 238.2,368.1 238.8,368.7C239.4,369.3 239.9,373.3 240.4,377.2C240.9,381.1 241.2,387.9 241.7,392.4C242.2,396.8 243,400.9 243.6,403.7C244.2,406.6 244.6,408.6 245.1,409.5C245.6,410.3 246.1,409 246.6,408.8C247.1,408.5 247.6,407.5 248.1,408C248.6,408.5 249,410.3 249.6,411.7C250.2,413 251,415 251.8,416C252.7,417.1 253.5,417.6 254.7,417.9C255.9,418.2 257.8,417.6 259.1,417.9C260.5,418.1 261.8,419.4 262.8,419.4C263.8,419.3 264.3,417.5 265,417.5C265.7,417.4 266.5,419.3 267.2,419C267.9,418.6 268.5,415.3 269.1,415.6C269.7,415.8 269.9,419.6 270.6,420.4C271.3,421.2 272.2,420.2 273.1,420.4C274,420.5 275.1,421 276,421.2C276.9,421.4 277.4,422 278.5,421.5C279.6,421 281.4,418 282.6,418.2C283.8,418.3 284.4,422.1 285.6,422.4C286.8,422.6 288.4,419.6 290,419.7C291.6,419.8 293.5,423 295.1,422.9C296.7,422.9 298,419.2 299.6,419.4C301.2,419.6 303.1,424.1 304.7,424.1C306.3,424.1 307.5,419.4 309.1,419.4C310.7,419.5 312.7,424.5 314.3,424.4C315.9,424.4 317.1,419 318.7,419C320.3,419.1 322.2,424.9 323.8,424.9C325.4,425 326.6,419.2 328.2,419.1C329.8,418.9 331.8,424.1 333.5,424C335.2,423.9 336.8,418.5 338.5,418.5C340.2,418.5 341.8,424.1 343.6,424C345.4,423.9 347.4,418.1 349.1,418C350.9,417.9 352.4,423.5 354.1,423.5C355.9,423.5 357.8,418.2 359.6,418C361.5,417.8 363.4,422.4 365.2,422.5C367,422.6 368.9,418.7 370.7,418.5C372.5,418.3 374.6,421.2 376.2,421.3C377.8,421.5 378.6,419.7 380.3,419.5C382,419.4 384.3,420.2 386.3,420.3C388.3,420.5 390.3,420.4 392.3,420.6C394.3,420.7 396.3,421.2 398.3,421.4C400.3,421.6 402.4,421.6 404.4,421.8C406.4,421.9 408.6,422 410.4,422.1C412.2,422.2 413.7,422.3 415.4,422.4C417.1,422.5 418.8,422.7 420.5,422.8C422.2,422.9 424.7,423 425.5,423.1" fill="none" stroke="#EA7E1E" stroke-width="1.35" stroke-linejoin="round"/>
<path d="M89,405.8C89.9,405.8 92.9,405.9 94.6,405.9C96.3,405.9 98,405.9 99.2,405.6C100.4,405.2 100.8,404 101.6,403.8C102.4,403.6 103.1,404.8 103.9,404.6C104.7,404.4 105.8,402.9 106.5,402.6C107.2,402.3 107.3,402.8 107.8,402.6C108.3,402.4 109,401.4 109.5,401.4C110,401.3 110.2,402.3 110.8,402.3C111.4,402.3 112.4,401.1 113.1,401.2C113.8,401.3 114.5,403.8 115.1,402.9C115.6,402 116,398.4 116.4,396C116.8,393.5 117,390 117.3,388.2C117.6,386.4 117.8,385.1 118.1,385.1C118.3,385.1 118.6,387 118.8,388.2C119,389.3 118.9,389.9 119.1,392C119.2,394 119.4,400.2 119.7,400.6C120,400.9 120.7,395.5 121.1,394C121.5,392.5 121.8,391.2 122.1,391.7C122.4,392.1 122.7,395 123.1,396.7C123.5,398.4 123.9,401.7 124.4,401.9C124.9,402.1 125.5,399 126,398C126.5,396.9 127.2,396.2 127.7,395.7C128.2,395.1 128.5,395.7 129,394.7C129.5,393.7 130.2,389.8 130.7,389.7C131.2,389.6 131.6,392.4 132,394C132.4,395.6 132.9,398.9 133.3,399.3C133.7,399.6 134.2,397.2 134.6,396C135,394.7 135.6,391.8 136,391.7C136.4,391.6 136.6,393.6 136.9,395.3C137.2,397 137.5,400.7 137.9,401.9C138.3,403.1 138.9,402.7 139.3,402.6C139.8,402.5 140.2,401.1 140.6,401.3C141,401.4 141.5,403 141.9,403.6C142.3,404.2 142.6,404.9 143.2,404.9C143.8,404.9 144.7,403.6 145.5,403.6C146.3,403.5 146.8,404.8 147.9,404.6C149,404.4 151,402.6 152,402.4C153,402.2 153.3,403.6 153.9,403.4C154.5,403.1 155,400.9 155.8,401C156.6,401 157.8,403.5 158.7,403.9C159.6,404.2 160.3,402.6 161.5,402.9C162.7,403.1 164.4,405.1 165.8,405.3C167.2,405.4 168.9,404.1 170.1,403.9C171.3,403.6 171.9,403.6 173,403.8C174.1,404.1 175.7,405.6 176.8,405.2C177.9,404.8 178.8,402.5 179.7,401.4C180.6,400.4 181.2,398.6 182.1,399C183,399.4 183.8,404.1 184.9,403.8C186,403.6 187.5,398.4 188.7,397.6C189.9,396.9 190.7,400 192.1,399.5C193.5,399.1 195.6,394.6 196.9,394.7C198.2,394.9 199.2,400 200.2,400.4C201.2,400.9 202.2,399.2 203.1,397.6C204,396 204.6,393.1 205.5,390.9C206.4,388.8 207.9,385.2 208.8,384.7C209.7,384.2 209.9,388.7 210.7,388C211.5,387.4 212.6,382.2 213.6,380.9C214.6,379.7 215.7,383.5 216.4,380.4C217.1,377.3 217.3,371.1 217.8,362.3C218.3,353.6 218.9,337.5 219.3,327.9C219.8,318.4 220.2,310.6 220.5,305.1C220.8,299.7 221.1,297.5 221.3,295.1C221.6,292.7 221.8,290.6 222,290.6C222.2,290.6 222.5,292.7 222.7,295.1C222.9,297.5 223.2,302.8 223.3,305.1C223.4,307.4 223.3,302.2 223.5,308.8C223.8,315.5 224.6,338.4 225.1,345.1C225.6,351.8 226,353.4 226.4,348.9C226.8,344.5 227.3,330.6 227.7,318.3C228.1,306 228.6,288.2 228.9,275.1C229.2,262.1 229.3,248.1 229.5,240.1C229.7,232.1 229.8,229.7 230,227.1C230.2,224.5 230.3,224.4 230.4,224.4C230.5,224.4 230.7,224.5 230.8,227.1C231,229.7 231.1,232.1 231.3,240.1C231.5,248.1 231.7,262.1 231.8,275.1C231.9,288.1 231.8,306.6 232.1,318.3C232.4,330 233.2,340.5 233.7,345.1C234.2,349.7 234.5,344.8 235,346.1C235.5,347.4 236.3,352.5 236.9,352.8C237.5,353.1 238.2,347.4 238.8,348C239.4,348.6 239.9,352.6 240.4,356.6C240.9,360.6 241.2,367.4 241.7,371.9C242.2,376.4 243,380.5 243.6,383.4C244.2,386.3 244.6,388.4 245.1,389.2C245.6,390.1 246.1,388.8 246.6,388.5C247.1,388.3 247.6,387.2 248.1,387.7C248.6,388.2 249,390.1 249.6,391.4C250.2,392.8 251,394.8 251.8,395.8C252.7,396.9 253.5,397.4 254.7,397.7C255.9,398 257.8,397.4 259.1,397.7C260.5,397.9 261.8,399.3 262.8,399.2C263.8,399.1 264.3,397.4 265,397.3C265.7,397.2 266.5,399.1 267.2,398.8C267.9,398.5 268.5,395.2 269.1,395.4C269.7,395.6 269.9,399.4 270.6,400.2C271.3,401 272.2,400.1 273.1,400.2C274,400.3 275.1,400.8 276,401C276.9,401.2 277.4,401.8 278.5,401.3C279.6,400.8 281.4,397.8 282.6,398C283.8,398.1 284.4,401.9 285.6,402.2C286.8,402.4 288.4,399.4 290,399.5C291.6,399.6 293.5,402.7 295.1,402.7C296.7,402.6 298,399 299.6,399.2C301.2,399.4 303.1,403.9 304.7,403.9C306.3,403.9 307.5,399.1 309.1,399.2C310.7,399.2 312.7,404.2 314.3,404.2C315.9,404.1 317.1,398.7 318.7,398.8C320.3,398.8 322.2,404.7 323.8,404.7C325.4,404.7 326.6,398.9 328.2,398.8C329.8,398.6 331.8,403.8 333.5,403.7C335.2,403.6 336.8,398.2 338.5,398.2C340.2,398.2 341.8,403.7 343.6,403.6C345.4,403.6 347.4,397.7 349.1,397.6C350.9,397.6 352.4,403.1 354.1,403.1C355.9,403.1 357.8,397.8 359.6,397.6C361.5,397.5 363.4,402.1 365.2,402.1C367,402.2 368.9,398.3 370.7,398.1C372.5,397.9 374.6,400.8 376.2,400.9C377.8,401.1 378.6,399.3 380.3,399.1C382,399 384.3,399.8 386.3,399.9C388.3,400.1 390.3,400 392.3,400.1C394.3,400.3 396.3,400.7 398.3,400.9C400.3,401.1 402.4,401.2 404.4,401.3C406.4,401.4 408.6,401.5 410.4,401.6C412.2,401.7 413.7,401.8 415.4,401.9C417.1,402 418.8,402.2 420.5,402.3C422.2,402.4 424.7,402.6 425.5,402.6" fill="none" stroke="#E9A322" stroke-width="1.35" stroke-linejoin="round"/>
</g>
<rect x="88.7" y="187.6" width="337.7" height="432.8" stroke="#000" stroke-width="1.6" fill="none"/>
<path d="M88.7,620.4h8M426.4,620.4h-8M88.7,612.5h4M426.4,612.5h-4M88.7,604.7h4M426.4,604.7h-4M88.7,596.8h4M426.4,596.8h-4M88.7,588.9h4M426.4,588.9h-4M88.7,581h4M426.4,581h-4M88.7,573.2h4M426.4,573.2h-4M88.7,565.3h4M426.4,565.3h-4M88.7,557.4h4M426.4,557.4h-4M88.7,549.6h4M426.4,549.6h-4M88.7,541.7h8M426.4,541.7h-8M88.7,533.8h4M426.4,533.8h-4M88.7,526h4M426.4,526h-4M88.7,518.1h4M426.4,518.1h-4M88.7,510.2h4M426.4,510.2h-4M88.7,502.3h4M426.4,502.3h-4M88.7,494.5h4M426.4,494.5h-4M88.7,486.6h4M426.4,486.6h-4M88.7,478.7h4M426.4,478.7h-4M88.7,470.9h4M426.4,470.9h-4M88.7,463h8M426.4,463h-8M88.7,455.1h4M426.4,455.1h-4M88.7,447.3h4M426.4,447.3h-4M88.7,439.4h4M426.4,439.4h-4M88.7,431.5h4M426.4,431.5h-4M88.7,423.6h4M426.4,423.6h-4M88.7,415.8h4M426.4,415.8h-4M88.7,407.9h4M426.4,407.9h-4M88.7,400h4M426.4,400h-4M88.7,392.2h4M426.4,392.2h-4M88.7,384.3h8M426.4,384.3h-8M88.7,376.4h4M426.4,376.4h-4M88.7,368.6h4M426.4,368.6h-4M88.7,360.7h4M426.4,360.7h-4M88.7,352.8h4M426.4,352.8h-4M88.7,344.9h4M426.4,344.9h-4M88.7,337.1h4M426.4,337.1h-4M88.7,329.2h4M426.4,329.2h-4M88.7,321.3h4M426.4,321.3h-4M88.7,313.5h4M426.4,313.5h-4M88.7,305.6h8M426.4,305.6h-8M88.7,297.7h4M426.4,297.7h-4M88.7,289.9h4M426.4,289.9h-4M88.7,282h4M426.4,282h-4M88.7,274.1h4M426.4,274.1h-4M88.7,266.2h4M426.4,266.2h-4M88.7,258.4h4M426.4,258.4h-4M88.7,250.5h4M426.4,250.5h-4M88.7,242.6h4M426.4,242.6h-4M88.7,234.8h4M426.4,234.8h-4M88.7,226.9h8M426.4,226.9h-8M88.7,219h4M426.4,219h-4M88.7,211.2h4M426.4,211.2h-4M88.7,203.3h4M426.4,203.3h-4M88.7,195.4h4M426.4,195.4h-4M102.9,620.4v-4M102.9,187.6v4M117,620.4v-9M117,187.6v9M131,620.4v-4M131,187.6v4M145,620.4v-4M145,187.6v4M159,620.4v-4M159,187.6v4M173.1,620.4v-9M173.1,187.6v9M187.1,620.4v-4M187.1,187.6v4M201.1,620.4v-4M201.1,187.6v4M215.1,620.4v-4M215.1,187.6v4M229.2,620.4v-9M229.2,187.6v9M243.2,620.4v-4M243.2,187.6v4M257.2,620.4v-4M257.2,187.6v4M271.2,620.4v-4M271.2,187.6v4M285.2,620.4v-9M285.2,187.6v9M299.3,620.4v-4M299.3,187.6v4M313.3,620.4v-4M313.3,187.6v4M327.3,620.4v-4M327.3,187.6v4M341.4,620.4v-9M341.4,187.6v9M355.4,620.4v-4M355.4,187.6v4M369.4,620.4v-4M369.4,187.6v4M383.4,620.4v-4M383.4,187.6v4M397.5,620.4v-9M397.5,187.6v9M411.5,620.4v-4M411.5,187.6v4" stroke="#000" stroke-width="1.3" fill="none"/>
<text x="40.00" y="548.72" font-size="18.38" font-family='"Liberation Serif", serif' fill="#262626" stroke="#262626" stroke-width="0.15" textLength="43.22" lengthAdjust="spacingAndGlyphs">1000</text>
<text x="38.72" y="470.02" font-size="18.38" font-family='"Liberation Serif", serif' fill="#262626" stroke="#262626" stroke-width="0.15" textLength="44.53" lengthAdjust="spacingAndGlyphs">2000</text>
<text x="38.63" y="391.32" font-size="18.38" font-family='"Liberation Serif", serif' fill="#262626" stroke="#262626" stroke-width="0.15" textLength="44.62" lengthAdjust="spacingAndGlyphs">3000</text>
<text x="39.27" y="312.62" font-size="18.38" font-family='"Liberation Serif", serif' fill="#262626" stroke="#262626" stroke-width="0.15" textLength="43.97" lengthAdjust="spacingAndGlyphs">4000</text>
<text x="38.40" y="233.92" font-size="18.38" font-family='"Liberation Serif", serif' fill="#262626" stroke="#262626" stroke-width="0.15" textLength="44.86" lengthAdjust="spacingAndGlyphs">5000</text>
<text x="100.06" y="646.12" font-size="17.93" font-family='"Liberation Serif", serif' fill="#262626" stroke="#262626" stroke-width="0.15" textLength="33.08" lengthAdjust="spacingAndGlyphs">120</text>
<text x="156.16" y="646.12" font-size="17.93" font-family='"Liberation Serif", serif' fill="#262626" stroke="#262626" stroke-width="0.15" textLength="33.08" lengthAdjust="spacingAndGlyphs">140</text>
<text x="212.26" y="646.12" font-size="17.93" font-family='"Liberation Serif", serif' fill="#262626" stroke="#262626" stroke-width="0.15" textLength="33.08" lengthAdjust="spacingAndGlyphs">160</text>
<text x="268.36" y="646.12" font-size="17.93" font-family='"Liberation Serif", serif' fill="#262626" stroke="#262626" stroke-width="0.15" textLength="33.08" lengthAdjust="spacingAndGlyphs">180</text>
<text x="325.46" y="646.12" font-size="17.93" font-family='"Liberation Serif", serif' fill="#262626" stroke="#262626" stroke-width="0.15" textLength="32.05" lengthAdjust="spacingAndGlyphs">200</text>
<text x="381.56" y="646.12" font-size="17.93" font-family='"Liberation Serif", serif' fill="#262626" stroke="#262626" stroke-width="0.15" textLength="32.05" lengthAdjust="spacingAndGlyphs">220</text>
<text transform="scale(1.1498,1)" x="155.75" y="667.20" font-size="18.33" font-family='"Liberation Serif", serif' fill="#262626" stroke="#262626" stroke-width="0.15" textLength="88.54" lengthAdjust="spacing">Wavelength</text>
<text transform="scale(1.1500,1)" x="252.85" y="667.20" font-size="18.33" font-family='"Liberation Serif", serif' fill="#262626" stroke="#262626" stroke-width="0.15" textLength="39.52" lengthAdjust="spacing">(nm)</text>
<text transform="translate(24.60,447.90) rotate(-90) scale(1.1365,1)" x="-0.55" y="0.00" font-size="19.09" font-family='"Liberation Serif", serif' fill="#262626" stroke="#262626" stroke-width="0.15" textLength="35.01" lengthAdjust="spacing">Flux</text>
<text transform="translate(24.60,397.00) rotate(-90) scale(1.1500,1)" x="-0.84" y="0.00" font-size="19.09" font-family='"Liberation Serif", serif' fill="#262626" stroke="#262626" stroke-width="0.15" textLength="32.03" lengthAdjust="spacing">(au)</text>
<text x="116.84" y="227.80" font-size="21.23" font-family='"Liberation Serif", serif' fill="#262626" stroke="#262626" stroke-width="0.15" textLength="28.24" lengthAdjust="spacingAndGlyphs">NH</text>
<text x="145.82" y="232.76" font-size="14.29" font-family='"Liberation Serif", serif' fill="#262626" stroke="#262626" stroke-width="0.15" textLength="8.11" lengthAdjust="spacingAndGlyphs">3</text>
<text x="347.76" y="606.18" font-size="12.19" font-family='"Liberation Serif", serif' fill="#262626" stroke="#262626" stroke-width="0.15" textLength="21.00" lengthAdjust="spacingAndGlyphs">0.5</text>
<text transform="scale(1.1500,1)" x="326.88" y="606.30" font-size="11.88" font-family='"Liberation Serif", serif' fill="#262626" stroke="#262626" stroke-width="0.15" textLength="22.78" lengthAdjust="spacing">min</text>
<text x="346.86" y="584.95" font-size="12.19" font-family='"Liberation Serif", serif' fill="#262626" stroke="#262626" stroke-width="0.15" textLength="21.93" lengthAdjust="spacingAndGlyphs">1.5</text>
<text transform="scale(1.1500,1)" x="326.88" y="585.07" font-size="11.88" font-family='"Liberation Serif", serif' fill="#262626" stroke="#262626" stroke-width="0.15" textLength="22.78" lengthAdjust="spacing">min</text>
<text x="347.66" y="563.72" font-size="12.19" font-family='"Liberation Serif", serif' fill="#262626" stroke="#262626" stroke-width="0.15" textLength="21.10" lengthAdjust="spacingAndGlyphs">2.5</text>
<text transform="scale(1.1500,1)" x="326.88" y="563.84" font-size="11.88" font-family='"Liberation Serif", serif' fill="#262626" stroke="#262626" stroke-width="0.15" textLength="22.78" lengthAdjust="spacing">min</text>
<text x="347.59" y="542.49" font-size="12.19" font-family='"Liberation Serif", serif' fill="#262626" stroke="#262626" stroke-width="0.15" textLength="21.17" lengthAdjust="spacingAndGlyphs">3.5</text>
<text transform="scale(1.1500,1)" x="326.88" y="542.61" font-size="11.88" font-family='"Liberation Serif", serif' fill="#262626" stroke="#262626" stroke-width="0.15" textLength="22.78" lengthAdjust="spacing">min</text>
<text x="348.08" y="521.26" font-size="12.19" font-family='"Liberation Serif", serif' fill="#262626" stroke="#262626" stroke-width="0.15" textLength="20.67" lengthAdjust="spacingAndGlyphs">4.5</text>
<text transform="scale(1.1500,1)" x="326.88" y="521.38" font-size="11.88" font-family='"Liberation Serif", serif' fill="#262626" stroke="#262626" stroke-width="0.15" textLength="22.78" lengthAdjust="spacing">min</text>
<text x="347.41" y="500.03" font-size="12.19" font-family='"Liberation Serif", serif' fill="#262626" stroke="#262626" stroke-width="0.15" textLength="21.36" lengthAdjust="spacingAndGlyphs">5.5</text>
<text transform="scale(1.1500,1)" x="326.88" y="500.15" font-size="11.88" font-family='"Liberation Serif", serif' fill="#262626" stroke="#262626" stroke-width="0.15" textLength="22.78" lengthAdjust="spacing">min</text>
<text x="347.68" y="478.80" font-size="12.19" font-family='"Liberation Serif", serif' fill="#262626" stroke="#262626" stroke-width="0.15" textLength="21.08" lengthAdjust="spacingAndGlyphs">6.5</text>
<text transform="scale(1.1500,1)" x="326.88" y="478.92" font-size="11.88" font-family='"Liberation Serif", serif' fill="#262626" stroke="#262626" stroke-width="0.15" textLength="22.78" lengthAdjust="spacing">min</text>
<text x="347.27" y="457.57" font-size="12.19" font-family='"Liberation Serif", serif' fill="#262626" stroke="#262626" stroke-width="0.15" textLength="21.51" lengthAdjust="spacingAndGlyphs">7.5</text>
<text transform="scale(1.1500,1)" x="326.88" y="457.69" font-size="11.88" font-family='"Liberation Serif", serif' fill="#262626" stroke="#262626" stroke-width="0.15" textLength="22.78" lengthAdjust="spacing">min</text>
<text x="347.76" y="436.34" font-size="12.19" font-family='"Liberation Serif", serif' fill="#262626" stroke="#262626" stroke-width="0.15" textLength="21.00" lengthAdjust="spacingAndGlyphs">8.5</text>
<text transform="scale(1.1500,1)" x="326.88" y="436.46" font-size="11.88" font-family='"Liberation Serif", serif' fill="#262626" stroke="#262626" stroke-width="0.15" textLength="22.78" lengthAdjust="spacing">min</text>
<text x="347.86" y="415.11" font-size="12.19" font-family='"Liberation Serif", serif' fill="#262626" stroke="#262626" stroke-width="0.15" textLength="20.89" lengthAdjust="spacingAndGlyphs">9.5</text>
<text transform="scale(1.1500,1)" x="326.88" y="415.23" font-size="11.88" font-family='"Liberation Serif", serif' fill="#262626" stroke="#262626" stroke-width="0.15" textLength="22.78" lengthAdjust="spacing">min</text>
<text x="348.03" y="393.88" font-size="12.19" font-family='"Liberation Serif", serif' fill="#262626" stroke="#262626" stroke-width="0.15" textLength="29.22" lengthAdjust="spacingAndGlyphs">10.5</text>
<text transform="scale(1.1500,1)" x="333.92" y="394.00" font-size="11.88" font-family='"Liberation Serif", serif' fill="#262626" stroke="#262626" stroke-width="0.15" textLength="22.86" lengthAdjust="spacing">min</text>
<path d="M426.4,7.9 V187.6" stroke="#E99E1F" stroke-width="1.4"/>
<path d="M426.4,187.3h-7M426.4,183h-4M426.4,178.7h-4M426.4,174.4h-4M426.4,170.1h-4M426.4,165.8h-4M426.4,161.5h-4M426.4,157.2h-4M426.4,152.9h-4M426.4,148.6h-4M426.4,144.3h-7M426.4,140h-4M426.4,135.7h-4M426.4,131.4h-4M426.4,127.1h-4M426.4,122.8h-4M426.4,118.5h-4M426.4,114.2h-4M426.4,109.9h-4M426.4,105.6h-4M426.4,101.3h-7M426.4,97h-4M426.4,92.7h-4M426.4,88.4h-4M426.4,84.1h-4M426.4,79.8h-4M426.4,75.5h-4M426.4,71.2h-4M426.4,66.9h-4M426.4,62.6h-4M426.4,58.3h-7M426.4,54h-4M426.4,49.7h-4M426.4,45.4h-4M426.4,41.1h-4M426.4,36.8h-4M426.4,32.5h-4M426.4,28.2h-4M426.4,23.9h-4M426.4,19.6h-4M426.4,15.3h-7M426.4,11h-4" stroke="#E99E1F" stroke-width="1.2" fill="none"/>
</svg></body></html>
